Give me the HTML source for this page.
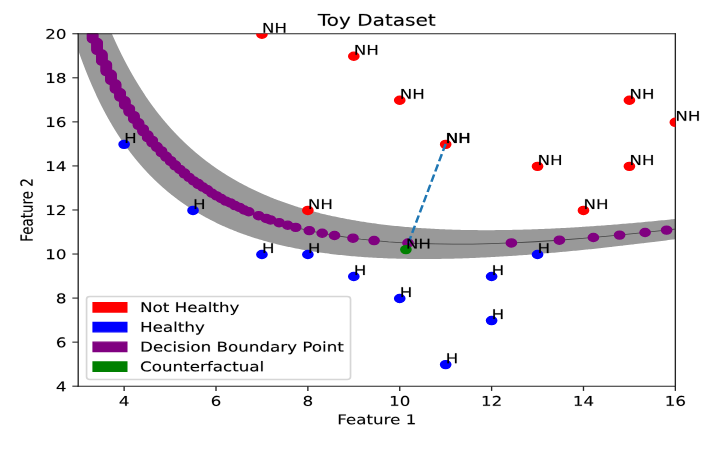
<!DOCTYPE html>
<html><head><meta charset="utf-8"><style>html,body{margin:0;padding:0;background:#fff;width:724px;height:464px;overflow:hidden;font-family:"Liberation Sans",sans-serif}svg{display:block} g[id^="text_"] use{stroke:#000;stroke-width:60}</style></head>
<body>
<svg width="724" height="464" preserveAspectRatio="none" viewBox="0 0 433.100698 345.123967" version="1.1">
 <defs>
  <style type="text/css">*{stroke-linejoin: round; stroke-linecap: butt}</style>
 </defs>
 <g id="figure_1">
  <g id="patch_1">
   <path d="M 0 345.123967 
L 433.100698 345.123967 
L 433.100698 0 
L 0 0 
z
" style="fill: #ffffff"/>
  </g>
  <g id="axes_1">
   <g id="patch_2">
    <path d="M 46.779661 287.256198 
L 403.998006 287.256198 
L 403.998006 25.103306 
L 46.779661 25.103306 
z
" style="fill: #ffffff"/>
   </g>
   <g id="QuadContourSet_1">
    <path d="M 229.891972 192.060809 
L 231.178583 192.127271 
L 232.465194 192.189548 
L 233.751805 192.2477 
L 235.038416 192.301785 
L 236.325027 192.351863 
L 237.611638 192.39799 
L 238.898249 192.440221 
L 240.18486 192.478612 
L 241.471471 192.513217 
L 242.758082 192.544088 
L 244.044693 192.571277 
L 245.331303 192.594835 
L 246.617914 192.614812 
L 247.904525 192.631257 
L 249.191136 192.644217 
L 250.477747 192.653742 
L 251.764358 192.659875 
L 253.050969 192.662665 
L 254.33758 192.662154 
L 255.624191 192.658387 
L 256.910802 192.651408 
L 258.197413 192.641258 
L 259.484024 192.627979 
L 260.770635 192.611613 
L 262.057246 192.592199 
L 263.343857 192.569778 
L 264.630468 192.544387 
L 265.917079 192.516066 
L 267.20369 192.484851 
L 268.490301 192.45078 
L 269.776912 192.413889 
L 271.063523 192.374213 
L 272.350134 192.331789 
L 273.636745 192.286649 
L 274.923356 192.238828 
L 276.209967 192.18836 
L 277.496578 192.135277 
L 278.783189 192.079612 
L 279.548146 192.044942 
L 280.0698 192.021394 
L 281.356411 191.960653 
L 282.643022 191.897423 
L 283.929633 191.831734 
L 285.216243 191.763616 
L 286.502854 191.693098 
L 287.789465 191.620209 
L 289.076076 191.544977 
L 290.362687 191.467431 
L 291.649298 191.387597 
L 292.935909 191.305503 
L 294.22252 191.221175 
L 295.509131 191.134639 
L 295.816544 191.113379 
L 296.795742 191.045916 
L 298.082353 190.955034 
L 299.368964 190.86202 
L 300.655575 190.7669 
L 301.942186 190.669696 
L 303.228797 190.570434 
L 304.515408 190.469135 
L 305.802019 190.365825 
L 307.08863 190.260524 
L 308.031753 190.181815 
L 308.375241 190.153254 
L 309.661852 190.044033 
L 310.948463 189.932888 
L 312.235074 189.819841 
L 313.521685 189.704913 
L 314.808296 189.588124 
L 316.094907 189.469497 
L 317.381518 189.34905 
L 318.420606 189.250252 
L 318.668129 189.226801 
L 319.95474 189.102765 
L 321.241351 188.976968 
L 322.527962 188.84943 
L 323.814572 188.720169 
L 325.101183 188.589204 
L 326.387794 188.456552 
L 327.674405 188.322233 
L 327.707834 188.318688 
L 328.961016 188.186254 
L 330.247627 188.048641 
L 331.534238 187.909413 
L 332.820849 187.768587 
L 334.10746 187.626178 
L 335.394071 187.482205 
L 336.233689 187.387125 
L 336.680682 187.336679 
L 337.967293 187.189612 
L 339.253904 187.041029 
L 340.540515 186.890944 
L 341.827126 186.739374 
L 343.113737 186.586332 
L 344.202188 186.455562 
L 344.400348 186.431833 
L 345.686959 186.275884 
L 346.97357 186.118508 
L 348.260181 185.95972 
L 349.546792 185.799534 
L 350.833403 185.637965 
L 351.732408 185.523998 
L 352.120014 185.475022 
L 353.406625 185.310715 
L 354.693236 185.145064 
L 355.979847 184.978085 
L 357.266458 184.809789 
L 358.553069 184.64019 
L 358.911761 184.592435 
L 359.83968 184.469291 
L 361.126291 184.297111 
L 362.412902 184.123665 
L 363.699512 183.948966 
L 364.986123 183.773026 
L 365.799632 183.660872 
L 366.272734 183.595852 
L 367.559345 183.417453 
L 368.845956 183.237848 
L 370.132567 183.05705 
L 371.419178 182.875068 
L 372.442444 182.729308 
L 372.705789 182.691912 
L 373.9924 182.507586 
L 375.279011 182.32211 
L 376.565622 182.135495 
L 377.852233 181.947752 
L 378.873504 181.797745 
L 379.138844 181.75889 
L 380.425455 181.56891 
L 381.712066 181.377833 
L 382.998677 181.185669 
L 384.285288 180.992429 
L 385.120345 180.866181 
L 385.571899 180.798118 
L 386.85851 180.602742 
L 388.145121 180.406318 
L 389.431732 180.208857 
L 390.718343 180.010367 
L 391.205924 179.934618 
L 392.004954 179.81085 
L 393.291565 179.610319 
L 394.578176 179.408787 
L 395.864787 179.206264 
L 397.149514 179.003055 
L 397.151398 179.002758 
L 398.438009 178.798264 
L 399.72462 178.592806 
L 401.011231 178.386391 
L 402.297841 178.179027 
L 402.961105 178.071491 
L 403.584452 177.970718 
L 404.871063 177.76147 
L 406.157674 177.551298 
L 407.444285 177.340212 
L 408.659631 177.139928 
L 408.730896 177.128217 
L 410.017507 176.915311 
L 411.304118 176.701512 
L 412.590729 176.48683 
L 413.87734 176.271272 
L 414.250549 176.208365 
L 415.163951 176.054835 
L 416.450562 175.837534 
L 417.737173 175.619378 
L 417.737173 175.276801 
L 417.737173 174.345238 
L 417.737173 173.413674 
L 417.737173 172.482111 
L 417.737173 171.550548 
L 417.737173 170.618984 
L 417.737173 169.687421 
L 417.737173 168.755858 
L 417.737173 167.824294 
L 417.737173 166.892731 
L 417.737173 165.961167 
L 417.737173 165.029604 
L 417.737173 164.098041 
L 417.737173 163.166477 
L 417.737173 162.234914 
L 417.737173 161.303351 
L 417.737173 161.049295 
L 416.450562 161.225968 
L 415.882615 161.303351 
L 415.163951 161.401543 
L 413.87734 161.57601 
L 412.590729 161.749366 
L 411.304118 161.9216 
L 410.017507 162.092703 
L 408.940456 162.234914 
L 408.730896 162.262663 
L 407.444285 162.431463 
L 406.157674 162.599101 
L 404.871063 162.765569 
L 403.584452 162.930854 
L 402.297841 163.094947 
L 401.731915 163.166477 
L 401.011231 163.257832 
L 399.72462 163.419498 
L 398.438009 163.57994 
L 397.151398 163.739147 
L 395.864787 163.897107 
L 394.578176 164.053809 
L 394.211253 164.098041 
L 393.291565 164.209235 
L 392.004954 164.363377 
L 390.718343 164.516227 
L 389.431732 164.667773 
L 388.145121 164.818003 
L 386.85851 164.966904 
L 386.310854 165.029604 
L 385.571899 165.11446 
L 384.285288 165.260658 
L 382.998677 165.405492 
L 381.712066 165.548947 
L 380.425455 165.691012 
L 379.138844 165.831672 
L 377.942047 165.961167 
L 377.852233 165.970915 
L 376.565622 166.108719 
L 375.279011 166.245079 
L 373.9924 166.379981 
L 372.705789 166.513412 
L 371.419178 166.645358 
L 370.132567 166.775803 
L 368.965401 166.892731 
L 368.845956 166.904734 
L 367.559345 167.032129 
L 366.272734 167.157979 
L 364.986123 167.282272 
L 363.699512 167.404991 
L 362.412902 167.526121 
L 361.126291 167.645647 
L 359.83968 167.763553 
L 359.166481 167.824294 
L 358.553069 167.879819 
L 357.266458 167.994428 
L 355.979847 168.107369 
L 354.693236 168.218624 
L 353.406625 168.328178 
L 352.120014 168.436013 
L 350.833403 168.542111 
L 349.546792 168.646455 
L 348.260181 168.749028 
L 348.172724 168.755858 
L 346.97357 168.849805 
L 345.686959 168.948773 
L 344.400348 169.045916 
L 343.113737 169.141213 
L 341.827126 169.234647 
L 340.540515 169.326197 
L 339.253904 169.415845 
L 337.967293 169.503571 
L 336.680682 169.589354 
L 335.394071 169.673175 
L 335.169447 169.687421 
L 334.10746 169.755007 
L 332.820849 169.834833 
L 331.534238 169.912635 
L 330.247627 169.988389 
L 328.961016 170.062075 
L 327.674405 170.133671 
L 326.387794 170.203153 
L 325.101183 170.270499 
L 323.814572 170.335686 
L 322.527962 170.39869 
L 321.241351 170.459489 
L 319.95474 170.518057 
L 318.668129 170.57437 
L 317.605129 170.618984 
L 317.381518 170.628403 
L 316.094907 170.680128 
L 314.808296 170.729523 
L 313.521685 170.776561 
L 312.235074 170.821218 
L 310.948463 170.863465 
L 309.661852 170.903276 
L 308.375241 170.940624 
L 307.08863 170.97548 
L 305.802019 171.007816 
L 304.515408 171.037603 
L 303.228797 171.064812 
L 301.942186 171.089414 
L 300.655575 171.111377 
L 299.368964 171.130673 
L 298.082353 171.147269 
L 296.795742 171.161134 
L 295.509131 171.172236 
L 294.22252 171.180542 
L 292.935909 171.18602 
L 291.649298 171.188636 
L 290.362687 171.188355 
L 289.076076 171.185143 
L 287.789465 171.178965 
L 286.502854 171.169785 
L 285.216243 171.157566 
L 283.929633 171.142272 
L 282.643022 171.123866 
L 281.356411 171.102308 
L 280.0698 171.07756 
L 278.783189 171.049583 
L 277.496578 171.018337 
L 276.209967 170.98378 
L 274.923356 170.945872 
L 273.636745 170.90457 
L 272.350134 170.859831 
L 271.063523 170.811612 
L 269.776912 170.759869 
L 268.490301 170.704557 
L 267.20369 170.645629 
L 266.654633 170.618984 
L 265.917079 170.583035 
L 264.630468 170.51673 
L 263.343857 170.446666 
L 262.057246 170.372796 
L 260.770635 170.295068 
L 259.484024 170.213432 
L 258.197413 170.127837 
L 256.910802 170.038229 
L 255.624191 169.944556 
L 254.33758 169.846762 
L 253.050969 169.744792 
L 252.354503 169.687421 
L 251.764358 169.638584 
L 250.477747 169.528081 
L 249.191136 169.413228 
L 247.904525 169.293967 
L 246.617914 169.170236 
L 245.331303 169.041973 
L 244.044693 168.909116 
L 242.758082 168.7716 
L 242.61509 168.755858 
L 241.471471 168.629347 
L 240.18486 168.482301 
L 238.898249 168.330396 
L 237.611638 168.173561 
L 236.325027 168.011728 
L 235.038416 167.844823 
L 234.884248 167.824294 
L 233.751805 167.672758 
L 232.465194 167.495471 
L 231.178583 167.312888 
L 229.891972 167.124931 
L 228.605361 166.931521 
L 228.353498 166.892731 
L 227.31875 166.732561 
L 226.032139 166.527979 
L 224.745528 166.317697 
L 223.458917 166.101628 
L 222.643161 165.961167 
L 222.172306 165.879676 
L 220.885695 165.651745 
L 219.599084 165.417759 
L 218.312473 165.177624 
L 217.537914 165.029604 
L 217.025862 164.931236 
L 215.739251 164.67849 
L 214.45264 164.419305 
L 213.166029 164.15358 
L 212.902578 164.098041 
L 211.879418 163.881187 
L 210.592807 163.602037 
L 209.306196 163.316031 
L 208.647711 163.166477 
L 208.019585 163.023041 
L 206.732974 162.722954 
L 205.446364 162.415673 
L 204.705404 162.234914 
L 204.159753 162.101064 
L 202.873142 161.779001 
L 201.586531 161.449384 
L 201.027753 161.303351 
L 200.29992 161.112064 
L 199.013309 160.766918 
L 197.726698 160.413833 
L 197.576169 160.371787 
L 196.440087 160.052637 
L 195.153476 159.683225 
L 194.324179 159.440224 
L 193.866865 159.305445 
L 192.580254 158.919141 
L 191.293643 158.524197 
L 191.243858 158.50866 
L 190.007032 158.120413 
L 188.720421 157.707682 
L 188.320529 157.577097 
L 187.43381 157.285812 
L 186.147199 156.854662 
L 185.534596 156.645534 
L 184.860588 156.414055 
L 183.573977 155.963822 
L 182.873248 155.71397 
L 182.287366 155.503793 
L 181.000755 155.033783 
L 180.325217 154.782407 
L 179.714144 154.553614 
L 178.427533 154.063096 
L 177.880558 153.850844 
L 177.140922 153.562034 
L 175.854311 153.050242 
L 175.530452 152.91928 
L 174.5677 152.527496 
L 173.281089 151.993626 
L 173.267059 151.987717 
L 171.994478 151.448364 
L 171.086495 151.056154 
L 170.707867 150.891546 
L 169.421256 150.322917 
L 168.979924 150.12459 
L 168.134645 149.742252 
L 166.942265 149.193027 
L 166.848034 149.149337 
L 165.561424 148.543888 
L 164.97151 148.261463 
L 164.274813 147.92569 
L 163.059922 147.3299 
L 162.988202 147.294492 
L 161.701591 146.649994 
L 161.20748 146.398337 
L 160.41498 145.991958 
L 159.407737 145.466773 
L 159.128369 145.32011 
L 157.841758 144.63415 
L 157.658917 144.53521 
L 156.555147 143.933779 
L 155.95891 143.603647 
L 155.268536 143.218716 
L 154.303496 142.672083 
L 153.981925 142.48865 
L 152.695314 141.743262 
L 152.690644 141.74052 
L 151.408703 140.982198 
L 151.120253 140.808956 
L 150.122092 140.205148 
L 149.588326 139.877393 
L 148.835481 139.411763 
L 148.093172 138.94583 
L 147.54887 138.601686 
L 146.633201 138.014266 
L 146.262259 137.774549 
L 145.206912 137.082703 
L 144.975648 136.929971 
L 143.812888 136.15114 
L 143.689037 136.067563 
L 142.449791 135.219576 
L 142.402426 135.186922 
L 141.116354 134.288013 
L 141.115815 134.287633 
L 139.829204 133.369267 
L 139.811487 133.356449 
L 138.542593 132.431389 
L 138.533791 132.424886 
L 137.282352 131.493323 
L 137.255982 131.473542 
L 136.056203 130.561759 
L 135.969371 130.495255 
L 134.854324 129.630196 
L 134.68276 129.496048 
L 133.675797 128.698633 
L 133.396149 128.475421 
L 132.519751 127.767069 
L 132.109538 127.43286 
L 131.385355 126.835506 
L 130.822927 126.367834 
L 130.271822 125.903942 
L 129.536316 125.279796 
L 129.178399 124.972379 
L 128.249705 124.168178 
L 128.104371 124.040816 
L 127.049504 123.109252 
L 126.963095 123.032382 
L 126.013527 122.177689 
L 125.676484 121.871791 
L 124.995051 121.246126 
L 124.389873 120.6858 
L 123.99348 120.314562 
L 123.103262 119.473765 
L 123.008242 119.382999 
L 122.039887 118.451435 
L 121.816651 118.234976 
L 121.087312 117.519872 
L 120.53004 116.96876 
L 120.149542 116.588309 
L 119.243429 115.674417 
L 119.226097 115.656745 
L 118.31822 114.725182 
L 117.956818 114.351137 
L 117.423874 113.793619 
L 116.670207 112.998212 
L 116.542553 112.862055 
L 115.675187 111.930492 
L 115.383596 111.61479 
L 114.820659 110.998929 
L 114.096985 110.200074 
L 113.977998 110.067365 
L 113.148352 109.135802 
L 112.810374 108.753162 
L 112.330413 108.204238 
L 111.523763 107.273209 
L 111.523305 107.272675 
L 110.728851 106.341112 
L 110.237152 105.759206 
L 109.944603 105.409548 
L 109.171208 104.477985 
L 108.950541 104.210254 
L 108.408703 103.546422 
L 107.66393 102.625337 
L 107.655538 102.614858 
L 106.913694 101.683295 
L 106.377319 101.003359 
L 106.180696 100.751731 
L 105.457777 99.820168 
L 105.090708 99.34328 
L 104.743997 98.888605 
L 104.039259 97.957041 
L 103.804097 97.643963 
L 103.343802 97.025478 
L 102.656541 96.093915 
L 102.517486 95.904226 
L 101.978566 95.162351 
L 101.308114 94.230788 
L 101.230875 94.122839 
L 100.646829 93.299224 
L 99.992555 92.367661 
L 99.944264 92.298521 
L 99.347212 91.436098 
L 98.708515 90.504534 
L 98.657653 90.429939 
L 98.078409 89.572971 
L 97.454722 88.641408 
L 97.371042 88.515704 
L 96.839185 87.709844 
L 96.229968 86.778281 
L 96.084431 86.554367 
L 95.628372 85.846717 
L 95.03311 84.915154 
L 94.79782 84.544418 
L 94.444859 83.983591 
L 93.863064 83.052027 
L 93.511209 82.484282 
L 93.287594 82.120464 
L 92.718802 81.188901 
L 92.224598 80.372314 
L 92.15558 80.257337 
L 91.599348 79.325774 
L 91.048257 78.39421 
L 90.937987 78.206755 
L 90.503772 77.462647 
L 89.964647 76.531084 
L 89.651376 75.985814 
L 89.431194 75.59952 
L 88.903641 74.667957 
L 88.380829 73.736394 
L 88.364765 73.707635 
L 87.864416 72.80483 
L 87.352645 71.873267 
L 87.078155 71.370157 
L 86.84619 70.941703 
L 86.345107 70.01014 
L 85.848408 69.078577 
L 85.791544 68.971392 
L 85.357487 68.147013 
L 84.871001 67.21545 
L 84.504933 66.509097 
L 84.389088 66.283887 
L 83.912498 65.352323 
L 83.439969 64.42076 
L 83.218322 63.981014 
L 82.97225 63.489197 
L 82.509189 62.557633 
L 82.050017 61.62607 
L 81.931711 61.384755 
L 81.59576 60.694506 
L 81.145653 59.762943 
L 80.699271 58.83138 
L 80.6451 58.717789 
L 80.25779 57.899816 
L 79.820094 56.968253 
L 79.38597 56.03669 
L 79.358489 55.977456 
L 78.956622 55.105126 
L 78.530825 54.173563 
L 78.108455 53.241999 
L 78.071878 53.160962 
L 77.690637 52.310436 
L 77.276257 51.378873 
L 76.865166 50.447309 
L 76.785267 50.265369 
L 76.458311 49.515746 
L 76.054892 48.584183 
L 75.654632 47.652619 
L 75.498656 47.287587 
L 75.258208 46.721056 
L 74.865318 45.789492 
L 74.475462 44.857929 
L 74.212045 44.22436 
L 74.088969 43.926366 
L 73.706199 42.994802 
L 73.326348 42.063239 
L 72.949383 41.131676 
L 72.925434 41.072245 
L 72.576277 40.200112 
L 72.206049 39.268549 
L 71.838597 38.336985 
L 71.638823 37.827535 
L 71.47436 37.405422 
L 71.113393 36.473859 
L 70.7551 35.542295 
L 70.399452 34.610732 
L 70.352212 34.48646 
L 70.047272 33.679169 
L 69.697799 32.747605 
L 69.350875 31.816042 
L 69.065601 31.044879 
L 69.006634 30.884478 
L 68.665662 29.952915 
L 68.327145 29.021352 
L 67.99106 28.089788 
L 67.77899 27.498479 
L 67.657708 27.158225 
L 67.327299 26.226662 
L 66.999235 25.295098 
L 66.673491 24.363535 
L 66.492379 23.842692 
L 66.350421 23.431971 
L 66.030097 22.500408 
L 65.712011 21.568845 
L 65.396142 20.637281 
L 65.205768 20.072642 
L 65.08279 19.705718 
L 64.772099 18.774155 
L 64.463548 17.842591 
L 64.157116 16.911028 
L 63.919157 16.911028 
L 62.632546 16.911028 
L 61.345935 16.911028 
L 60.059324 16.911028 
L 58.772713 16.911028 
L 57.486102 16.911028 
L 56.199491 16.911028 
L 54.91288 16.911028 
L 53.626269 16.911028 
L 52.339658 16.911028 
L 51.053047 16.911028 
L 49.766436 16.911028 
L 48.479826 16.911028 
L 47.193215 16.911028 
L 45.906604 16.911028 
L 44.619993 16.911028 
L 43.333382 16.911028 
L 42.046771 16.911028 
L 41.513663 16.911028 
L 41.735105 17.842591 
L 41.958033 18.774155 
L 42.046771 19.143191 
L 42.182803 19.705718 
L 42.409317 20.637281 
L 42.637368 21.568845 
L 42.866972 22.500408 
L 43.098144 23.431971 
L 43.330898 24.363535 
L 43.333382 24.373441 
L 43.565843 25.295098 
L 43.802416 26.226662 
L 44.040627 27.158225 
L 44.280491 28.089788 
L 44.522025 29.021352 
L 44.619993 29.397317 
L 44.765625 29.952915 
L 45.01119 30.884478 
L 45.258485 31.816042 
L 45.507526 32.747605 
L 45.758331 33.679169 
L 45.906604 34.226768 
L 46.011196 34.610732 
L 46.266262 35.542295 
L 46.523155 36.473859 
L 46.781895 37.405422 
L 47.042499 38.336985 
L 47.193215 38.872647 
L 47.305292 39.268549 
L 47.570405 40.200112 
L 47.837452 41.131676 
L 48.106453 42.063239 
L 48.377429 42.994802 
L 48.479826 43.345014 
L 48.650871 43.926366 
L 48.926623 44.857929 
L 49.204423 45.789492 
L 49.484294 46.721056 
L 49.766257 47.652619 
L 49.766436 47.653208 
L 50.051137 48.584183 
L 50.338167 49.515746 
L 50.62737 50.447309 
L 50.918769 51.378873 
L 51.053047 51.805735 
L 51.212847 52.310436 
L 51.509566 53.241999 
L 51.808567 54.173563 
L 52.109876 55.105126 
L 52.339658 55.810726 
L 52.413733 56.03669 
L 52.720633 56.968253 
L 53.029932 57.899816 
L 53.341657 58.83138 
L 53.626269 59.675576 
L 53.655923 59.762943 
L 53.97353 60.694506 
L 54.293661 61.62607 
L 54.616345 62.557633 
L 54.91288 63.407195 
L 54.9417 63.489197 
L 55.270578 64.42076 
L 55.602114 65.352323 
L 55.936341 66.283887 
L 56.199491 67.012043 
L 56.273516 67.21545 
L 56.614272 68.147013 
L 56.95783 69.078577 
L 57.304224 70.01014 
L 57.486102 70.496173 
L 57.654015 70.941703 
L 58.007299 71.873267 
L 58.363541 72.80483 
L 58.722777 73.736394 
L 58.772713 73.865255 
L 59.086045 74.667957 
L 59.452559 75.59952 
L 59.822197 76.531084 
L 60.059324 77.124506 
L 60.195442 77.462647 
L 60.572679 78.39421 
L 60.953179 79.325774 
L 61.336984 80.257337 
L 61.345935 80.278964 
L 61.725393 81.188901 
L 62.117242 82.120464 
L 62.512546 83.052027 
L 62.632546 83.333174 
L 62.91229 83.983591 
L 63.316005 84.915154 
L 63.723334 85.846717 
L 63.919157 86.291585 
L 64.135063 86.778281 
L 64.551195 87.709844 
L 64.97111 88.641408 
L 65.205768 89.158291 
L 65.395519 89.572971 
L 65.824655 90.504534 
L 66.257754 91.436098 
L 66.492379 91.937159 
L 66.695589 92.367661 
L 67.138354 93.299224 
L 67.585275 94.230788 
L 67.77899 94.631839 
L 68.037338 95.162351 
L 68.4944 96.093915 
L 68.955823 97.025478 
L 69.065601 97.245783 
L 69.422978 97.957041 
L 69.89505 98.888605 
L 70.352212 99.782246 
L 70.371776 99.820168 
L 70.854877 100.751731 
L 71.342724 101.683295 
L 71.638823 102.24425 
L 71.836132 102.614858 
L 72.33558 103.546422 
L 72.84002 104.477985 
L 72.925434 104.634787 
L 73.351166 105.409548 
L 73.86782 106.341112 
L 74.212045 106.956553 
L 74.390428 107.272675 
L 74.919756 108.204238 
L 75.454541 109.135802 
L 75.498656 109.212212 
L 75.996849 110.067365 
L 76.545002 110.998929 
L 76.785267 111.404174 
L 77.100182 111.930492 
L 77.662224 112.862055 
L 78.071878 113.534858 
L 78.2309 113.793619 
L 78.80738 114.725182 
L 79.358489 115.606485 
L 79.390216 115.656745 
L 79.981714 116.588309 
L 80.57969 117.519872 
L 80.6451 117.621145 
L 81.186543 118.451435 
L 81.80042 119.382999 
L 81.931711 119.58088 
L 82.423268 120.314562 
L 83.05371 121.246126 
L 83.218322 121.487624 
L 83.693373 122.177689 
L 84.341084 123.109252 
L 84.504933 123.343208 
L 84.998438 124.040816 
L 85.664165 124.972379 
L 85.791544 125.14938 
L 86.340143 125.903942 
L 87.024679 126.835506 
L 87.078155 126.907811 
L 87.720279 127.767069 
L 88.364765 128.620078 
L 88.424743 128.698633 
L 89.140755 129.630196 
L 89.651376 130.287697 
L 89.8665 130.561759 
L 90.603607 131.493323 
L 90.937987 131.912145 
L 91.351819 132.424886 
L 92.111012 133.356449 
L 92.224598 133.494817 
L 92.882965 134.288013 
L 93.511209 135.037011 
L 93.666061 135.219576 
L 94.462358 136.15114 
L 94.79782 136.540007 
L 95.271334 137.082703 
L 96.084431 138.005064 
L 96.092637 138.014266 
L 96.92898 138.94583 
L 97.371042 139.433268 
L 97.778565 139.877393 
L 98.641904 140.808956 
L 98.657653 140.825833 
L 99.52149 141.74052 
L 99.944264 142.183739 
L 100.415735 142.672083 
L 101.230875 143.508101 
L 101.325179 143.603647 
L 102.251846 144.53521 
L 102.517486 144.799842 
L 103.195342 145.466773 
L 103.804097 146.059948 
L 104.15578 146.398337 
L 105.090708 147.289341 
L 105.133813 147.3299 
L 106.131538 148.261463 
L 106.377319 148.488849 
L 107.148445 149.193027 
L 107.66393 149.659352 
L 108.185045 150.12459 
L 108.950541 150.801667 
L 109.242135 151.056154 
L 110.237152 151.916569 
L 110.320553 151.987717 
L 111.421806 152.91928 
L 111.523763 153.004791 
L 112.546596 153.850844 
L 112.810374 154.067064 
L 113.6954 154.782407 
L 114.096985 155.104096 
L 114.869253 155.71397 
L 115.383596 156.116558 
L 116.069247 156.645534 
L 116.670207 157.105098 
L 117.296542 157.577097 
L 117.956818 158.070341 
L 118.552365 158.50866 
L 119.243429 159.012889 
L 119.838018 159.440224 
L 120.53004 159.933327 
L 121.154885 160.371787 
L 121.816651 160.832216 
L 122.504434 161.303351 
L 123.103262 161.7101 
L 123.888229 162.234914 
L 124.389873 162.567505 
L 125.307936 163.166477 
L 125.676484 163.404939 
L 126.765329 164.098041 
L 126.963095 164.222895 
L 128.249705 165.021846 
L 128.262394 165.029604 
L 129.536316 165.802229 
L 129.802874 165.961167 
L 130.822927 166.564513 
L 131.387522 166.892731 
L 132.109538 167.309128 
L 133.018692 167.824294 
L 133.396149 168.036492 
L 134.68276 168.747009 
L 134.699038 168.755858 
L 135.969371 169.441035 
L 136.434662 169.687421 
L 137.255982 170.118985 
L 138.225554 170.618984 
L 138.542593 170.781229 
L 139.829204 171.428104 
L 140.077019 171.550548 
L 141.115815 172.059948 
L 141.993798 172.482111 
L 142.402426 172.677124 
L 143.689037 173.279938 
L 143.979625 173.413674 
L 144.975648 173.868695 
L 146.040537 174.345238 
L 146.262259 174.443734 
L 147.54887 175.005311 
L 148.183454 175.276801 
L 148.835481 175.553743 
L 150.122092 176.089308 
L 150.413399 176.208365 
L 151.408703 176.612254 
L 152.695314 177.122888 
L 152.738993 177.139928 
L 153.981925 177.62141 
L 155.171055 178.071491 
L 155.268536 178.108131 
L 156.555147 178.583234 
L 157.719044 179.003055 
L 157.841758 179.047014 
L 159.128369 179.499644 
L 160.395079 179.934618 
L 160.41498 179.941405 
L 161.701591 180.372453 
L 162.988202 180.793059 
L 163.216235 180.866181 
L 164.274813 181.203379 
L 165.561424 181.603651 
L 166.198969 181.797745 
L 166.848034 181.994051 
L 168.134645 182.37477 
L 169.362994 182.729308 
L 169.421256 182.746016 
L 170.707867 183.107922 
L 171.994478 183.460713 
L 172.741486 183.660872 
L 173.281089 183.804539 
L 174.5677 184.139559 
L 175.854311 184.465962 
L 176.364218 184.592435 
L 177.140922 184.783881 
L 178.427533 185.093479 
L 179.714144 185.394924 
L 180.278181 185.523998 
L 181.000755 185.688341 
L 182.287366 185.973877 
L 183.573977 186.251691 
L 184.543242 186.455562 
L 184.860588 186.52191 
L 186.147199 186.78465 
L 187.43381 187.040068 
L 188.720421 187.28829 
L 189.245943 187.387125 
L 190.007032 187.529423 
L 191.293643 187.763595 
L 192.580254 187.990937 
L 193.866865 188.211564 
L 194.509033 188.318688 
L 195.153476 188.425576 
L 196.440087 188.633085 
L 197.726698 188.834212 
L 199.013309 189.029064 
L 200.29992 189.217742 
L 200.527945 189.250252 
L 201.586531 189.400332 
L 202.873142 189.576946 
L 204.159753 189.747685 
L 205.446364 189.912644 
L 206.732974 190.071916 
L 207.651682 190.181815 
L 208.019585 190.225586 
L 209.306196 190.373736 
L 210.592807 190.516466 
L 211.879418 190.653862 
L 213.166029 190.786005 
L 214.45264 190.912978 
L 215.739251 191.034861 
L 216.602177 191.113379 
L 217.025862 191.151728 
L 218.312473 191.263651 
L 219.599084 191.370715 
L 220.885695 191.472993 
L 222.172306 191.570557 
L 223.458917 191.663477 
L 224.745528 191.751824 
L 226.032139 191.835665 
L 227.31875 191.915067 
L 228.605361 191.990094 
L 229.602164 192.044942 
z
" clip-path="url(#pa65eab0f58)" style="fill: #999999"/>
   </g>
   <g id="matplotlib.axis_1">
    <g id="xtick_1">
     <g id="line2d_1">
      <defs>
       <path id="m4f510c6776" d="M 0 0 
L 0 3.5 
" style="stroke: #242424; stroke-width: 0.8"/>
      </defs>
      <g>
       <use href="#m4f510c6776" x="74.257995" y="287.256198" style="fill: #242424; stroke: #242424; stroke-width: 0.8"/>
      </g>
     </g>
     <g id="text_1">
      <g transform="translate(71.076745 301.854636) scale(0.1 -0.1)">
       <defs>
        <path id="DejaVuSans-34" d="M 2419 4116 
L 825 1625 
L 2419 1625 
L 2419 4116 
z
M 2253 4666 
L 3047 4666 
L 3047 1625 
L 3713 1625 
L 3713 1100 
L 3047 1100 
L 3047 0 
L 2419 0 
L 2419 1100 
L 313 1100 
L 313 1709 
L 2253 4666 
z
" transform="scale(0.015625)"/>
       </defs>
       <use href="#DejaVuSans-34"/>
      </g>
     </g>
    </g>
    <g id="xtick_2">
     <g id="line2d_2">
      <g>
       <use href="#m4f510c6776" x="129.214664" y="287.256198" style="fill: #242424; stroke: #242424; stroke-width: 0.8"/>
      </g>
     </g>
     <g id="text_2">
      <g transform="translate(126.033414 301.854636) scale(0.1 -0.1)">
       <defs>
        <path id="DejaVuSans-36" d="M 2113 2584 
Q 1688 2584 1439 2293 
Q 1191 2003 1191 1497 
Q 1191 994 1439 701 
Q 1688 409 2113 409 
Q 2538 409 2786 701 
Q 3034 994 3034 1497 
Q 3034 2003 2786 2293 
Q 2538 2584 2113 2584 
z
M 3366 4563 
L 3366 3988 
Q 3128 4100 2886 4159 
Q 2644 4219 2406 4219 
Q 1781 4219 1451 3797 
Q 1122 3375 1075 2522 
Q 1259 2794 1537 2939 
Q 1816 3084 2150 3084 
Q 2853 3084 3261 2657 
Q 3669 2231 3669 1497 
Q 3669 778 3244 343 
Q 2819 -91 2113 -91 
Q 1303 -91 875 529 
Q 447 1150 447 2328 
Q 447 3434 972 4092 
Q 1497 4750 2381 4750 
Q 2619 4750 2861 4703 
Q 3103 4656 3366 4563 
z
" transform="scale(0.015625)"/>
       </defs>
       <use href="#DejaVuSans-36"/>
      </g>
     </g>
    </g>
    <g id="xtick_3">
     <g id="line2d_3">
      <g>
       <use href="#m4f510c6776" x="184.171332" y="287.256198" style="fill: #242424; stroke: #242424; stroke-width: 0.8"/>
      </g>
     </g>
     <g id="text_3">
      <g transform="translate(180.990082 301.854636) scale(0.1 -0.1)">
       <defs>
        <path id="DejaVuSans-38" d="M 2034 2216 
Q 1584 2216 1326 1975 
Q 1069 1734 1069 1313 
Q 1069 891 1326 650 
Q 1584 409 2034 409 
Q 2484 409 2743 651 
Q 3003 894 3003 1313 
Q 3003 1734 2745 1975 
Q 2488 2216 2034 2216 
z
M 1403 2484 
Q 997 2584 770 2862 
Q 544 3141 544 3541 
Q 544 4100 942 4425 
Q 1341 4750 2034 4750 
Q 2731 4750 3128 4425 
Q 3525 4100 3525 3541 
Q 3525 3141 3298 2862 
Q 3072 2584 2669 2484 
Q 3125 2378 3379 2068 
Q 3634 1759 3634 1313 
Q 3634 634 3220 271 
Q 2806 -91 2034 -91 
Q 1263 -91 848 271 
Q 434 634 434 1313 
Q 434 1759 690 2068 
Q 947 2378 1403 2484 
z
M 1172 3481 
Q 1172 3119 1398 2916 
Q 1625 2713 2034 2713 
Q 2441 2713 2670 2916 
Q 2900 3119 2900 3481 
Q 2900 3844 2670 4047 
Q 2441 4250 2034 4250 
Q 1625 4250 1398 4047 
Q 1172 3844 1172 3481 
z
" transform="scale(0.015625)"/>
       </defs>
       <use href="#DejaVuSans-38"/>
      </g>
     </g>
    </g>
    <g id="xtick_4">
     <g id="line2d_4">
      <g>
       <use href="#m4f510c6776" x="239.128001" y="287.256198" style="fill: #242424; stroke: #242424; stroke-width: 0.8"/>
      </g>
     </g>
     <g id="text_4">
      <g transform="translate(232.765501 301.854636) scale(0.1 -0.1)">
       <defs>
        <path id="DejaVuSans-31" d="M 794 531 
L 1825 531 
L 1825 4091 
L 703 3866 
L 703 4441 
L 1819 4666 
L 2450 4666 
L 2450 531 
L 3481 531 
L 3481 0 
L 794 0 
L 794 531 
z
" transform="scale(0.015625)"/>
        <path id="DejaVuSans-30" d="M 2034 4250 
Q 1547 4250 1301 3770 
Q 1056 3291 1056 2328 
Q 1056 1369 1301 889 
Q 1547 409 2034 409 
Q 2525 409 2770 889 
Q 3016 1369 3016 2328 
Q 3016 3291 2770 3770 
Q 2525 4250 2034 4250 
z
M 2034 4750 
Q 2819 4750 3233 4129 
Q 3647 3509 3647 2328 
Q 3647 1150 3233 529 
Q 2819 -91 2034 -91 
Q 1250 -91 836 529 
Q 422 1150 422 2328 
Q 422 3509 836 4129 
Q 1250 4750 2034 4750 
z
" transform="scale(0.015625)"/>
       </defs>
       <use href="#DejaVuSans-31"/>
       <use href="#DejaVuSans-30" transform="translate(63.623047 0)"/>
      </g>
     </g>
    </g>
    <g id="xtick_5">
     <g id="line2d_5">
      <g>
       <use href="#m4f510c6776" x="294.084669" y="287.256198" style="fill: #242424; stroke: #242424; stroke-width: 0.8"/>
      </g>
     </g>
     <g id="text_5">
      <g transform="translate(287.722169 301.854636) scale(0.1 -0.1)">
       <defs>
        <path id="DejaVuSans-32" d="M 1228 531 
L 3431 531 
L 3431 0 
L 469 0 
L 469 531 
Q 828 903 1448 1529 
Q 2069 2156 2228 2338 
Q 2531 2678 2651 2914 
Q 2772 3150 2772 3378 
Q 2772 3750 2511 3984 
Q 2250 4219 1831 4219 
Q 1534 4219 1204 4116 
Q 875 4013 500 3803 
L 500 4441 
Q 881 4594 1212 4672 
Q 1544 4750 1819 4750 
Q 2544 4750 2975 4387 
Q 3406 4025 3406 3419 
Q 3406 3131 3298 2873 
Q 3191 2616 2906 2266 
Q 2828 2175 2409 1742 
Q 1991 1309 1228 531 
z
" transform="scale(0.015625)"/>
       </defs>
       <use href="#DejaVuSans-31"/>
       <use href="#DejaVuSans-32" transform="translate(63.623047 0)"/>
      </g>
     </g>
    </g>
    <g id="xtick_6">
     <g id="line2d_6">
      <g>
       <use href="#m4f510c6776" x="349.041338" y="287.256198" style="fill: #242424; stroke: #242424; stroke-width: 0.8"/>
      </g>
     </g>
     <g id="text_6">
      <g transform="translate(342.678838 301.854636) scale(0.1 -0.1)">
       <use href="#DejaVuSans-31"/>
       <use href="#DejaVuSans-34" transform="translate(63.623047 0)"/>
      </g>
     </g>
    </g>
    <g id="xtick_7">
     <g id="line2d_7">
      <g>
       <use href="#m4f510c6776" x="403.998006" y="287.256198" style="fill: #242424; stroke: #242424; stroke-width: 0.8"/>
      </g>
     </g>
     <g id="text_7">
      <g transform="translate(397.635506 301.854636) scale(0.1 -0.1)">
       <use href="#DejaVuSans-31"/>
       <use href="#DejaVuSans-36" transform="translate(63.623047 0)"/>
      </g>
     </g>
    </g>
    <g id="text_8">
     <g transform="translate(201.728677 315.532761) scale(0.1 -0.1)">
      <defs>
       <path id="DejaVuSans-46" d="M 628 4666 
L 3309 4666 
L 3309 4134 
L 1259 4134 
L 1259 2759 
L 3109 2759 
L 3109 2228 
L 1259 2228 
L 1259 0 
L 628 0 
L 628 4666 
z
" transform="scale(0.015625)"/>
       <path id="DejaVuSans-65" d="M 3597 1894 
L 3597 1613 
L 953 1613 
Q 991 1019 1311 708 
Q 1631 397 2203 397 
Q 2534 397 2845 478 
Q 3156 559 3463 722 
L 3463 178 
Q 3153 47 2828 -22 
Q 2503 -91 2169 -91 
Q 1331 -91 842 396 
Q 353 884 353 1716 
Q 353 2575 817 3079 
Q 1281 3584 2069 3584 
Q 2775 3584 3186 3129 
Q 3597 2675 3597 1894 
z
M 3022 2063 
Q 3016 2534 2758 2815 
Q 2500 3097 2075 3097 
Q 1594 3097 1305 2825 
Q 1016 2553 972 2059 
L 3022 2063 
z
" transform="scale(0.015625)"/>
       <path id="DejaVuSans-61" d="M 2194 1759 
Q 1497 1759 1228 1600 
Q 959 1441 959 1056 
Q 959 750 1161 570 
Q 1363 391 1709 391 
Q 2188 391 2477 730 
Q 2766 1069 2766 1631 
L 2766 1759 
L 2194 1759 
z
M 3341 1997 
L 3341 0 
L 2766 0 
L 2766 531 
Q 2569 213 2275 61 
Q 1981 -91 1556 -91 
Q 1019 -91 701 211 
Q 384 513 384 1019 
Q 384 1609 779 1909 
Q 1175 2209 1959 2209 
L 2766 2209 
L 2766 2266 
Q 2766 2663 2505 2880 
Q 2244 3097 1772 3097 
Q 1472 3097 1187 3025 
Q 903 2953 641 2809 
L 641 3341 
Q 956 3463 1253 3523 
Q 1550 3584 1831 3584 
Q 2591 3584 2966 3190 
Q 3341 2797 3341 1997 
z
" transform="scale(0.015625)"/>
       <path id="DejaVuSans-74" d="M 1172 4494 
L 1172 3500 
L 2356 3500 
L 2356 3053 
L 1172 3053 
L 1172 1153 
Q 1172 725 1289 603 
Q 1406 481 1766 481 
L 2356 481 
L 2356 0 
L 1766 0 
Q 1100 0 847 248 
Q 594 497 594 1153 
L 594 3053 
L 172 3053 
L 172 3500 
L 594 3500 
L 594 4494 
L 1172 4494 
z
" transform="scale(0.015625)"/>
       <path id="DejaVuSans-75" d="M 544 1381 
L 544 3500 
L 1119 3500 
L 1119 1403 
Q 1119 906 1312 657 
Q 1506 409 1894 409 
Q 2359 409 2629 706 
Q 2900 1003 2900 1516 
L 2900 3500 
L 3475 3500 
L 3475 0 
L 2900 0 
L 2900 538 
Q 2691 219 2414 64 
Q 2138 -91 1772 -91 
Q 1169 -91 856 284 
Q 544 659 544 1381 
z
M 1991 3584 
L 1991 3584 
z
" transform="scale(0.015625)"/>
       <path id="DejaVuSans-72" d="M 2631 2963 
Q 2534 3019 2420 3045 
Q 2306 3072 2169 3072 
Q 1681 3072 1420 2755 
Q 1159 2438 1159 1844 
L 1159 0 
L 581 0 
L 581 3500 
L 1159 3500 
L 1159 2956 
Q 1341 3275 1631 3429 
Q 1922 3584 2338 3584 
Q 2397 3584 2469 3576 
Q 2541 3569 2628 3553 
L 2631 2963 
z
" transform="scale(0.015625)"/>
       <path id="DejaVuSans-20" transform="scale(0.015625)"/>
      </defs>
      <use href="#DejaVuSans-46"/>
      <use href="#DejaVuSans-65" transform="translate(52.019531 0)"/>
      <use href="#DejaVuSans-61" transform="translate(113.542969 0)"/>
      <use href="#DejaVuSans-74" transform="translate(174.822266 0)"/>
      <use href="#DejaVuSans-75" transform="translate(214.03125 0)"/>
      <use href="#DejaVuSans-72" transform="translate(277.410156 0)"/>
      <use href="#DejaVuSans-65" transform="translate(316.273438 0)"/>
      <use href="#DejaVuSans-20" transform="translate(377.796875 0)"/>
      <use href="#DejaVuSans-31" transform="translate(409.583984 0)"/>
     </g>
    </g>
   </g>
   <g id="matplotlib.axis_2">
    <g id="ytick_1">
     <g id="line2d_8">
      <defs>
       <path id="m53d53409c9" d="M 0 0 
L -3.5 0 
" style="stroke: #242424; stroke-width: 0.8"/>
      </defs>
      <g>
       <use href="#m53d53409c9" x="46.779661" y="287.256198" style="fill: #242424; stroke: #242424; stroke-width: 0.8"/>
      </g>
     </g>
     <g id="text_9">
      <g transform="translate(33.417161 291.055417) scale(0.1 -0.1)">
       <use href="#DejaVuSans-34"/>
      </g>
     </g>
    </g>
    <g id="ytick_2">
     <g id="line2d_9">
      <g>
       <use href="#m53d53409c9" x="46.779661" y="254.487087" style="fill: #242424; stroke: #242424; stroke-width: 0.8"/>
      </g>
     </g>
     <g id="text_10">
      <g transform="translate(33.417161 258.286306) scale(0.1 -0.1)">
       <use href="#DejaVuSans-36"/>
      </g>
     </g>
    </g>
    <g id="ytick_3">
     <g id="line2d_10">
      <g>
       <use href="#m53d53409c9" x="46.779661" y="221.717975" style="fill: #242424; stroke: #242424; stroke-width: 0.8"/>
      </g>
     </g>
     <g id="text_11">
      <g transform="translate(33.417161 225.517194) scale(0.1 -0.1)">
       <use href="#DejaVuSans-38"/>
      </g>
     </g>
    </g>
    <g id="ytick_4">
     <g id="line2d_11">
      <g>
       <use href="#m53d53409c9" x="46.779661" y="188.948864" style="fill: #242424; stroke: #242424; stroke-width: 0.8"/>
      </g>
     </g>
     <g id="text_12">
      <g transform="translate(27.054661 192.748082) scale(0.1 -0.1)">
       <use href="#DejaVuSans-31"/>
       <use href="#DejaVuSans-30" transform="translate(63.623047 0)"/>
      </g>
     </g>
    </g>
    <g id="ytick_5">
     <g id="line2d_12">
      <g>
       <use href="#m53d53409c9" x="46.779661" y="156.179752" style="fill: #242424; stroke: #242424; stroke-width: 0.8"/>
      </g>
     </g>
     <g id="text_13">
      <g transform="translate(27.054661 159.978971) scale(0.1 -0.1)">
       <use href="#DejaVuSans-31"/>
       <use href="#DejaVuSans-32" transform="translate(63.623047 0)"/>
      </g>
     </g>
    </g>
    <g id="ytick_6">
     <g id="line2d_13">
      <g>
       <use href="#m53d53409c9" x="46.779661" y="123.41064" style="fill: #242424; stroke: #242424; stroke-width: 0.8"/>
      </g>
     </g>
     <g id="text_14">
      <g transform="translate(27.054661 127.209859) scale(0.1 -0.1)">
       <use href="#DejaVuSans-31"/>
       <use href="#DejaVuSans-34" transform="translate(63.623047 0)"/>
      </g>
     </g>
    </g>
    <g id="ytick_7">
     <g id="line2d_14">
      <g>
       <use href="#m53d53409c9" x="46.779661" y="90.641529" style="fill: #242424; stroke: #242424; stroke-width: 0.8"/>
      </g>
     </g>
     <g id="text_15">
      <g transform="translate(27.054661 94.440748) scale(0.1 -0.1)">
       <use href="#DejaVuSans-31"/>
       <use href="#DejaVuSans-36" transform="translate(63.623047 0)"/>
      </g>
     </g>
    </g>
    <g id="ytick_8">
     <g id="line2d_15">
      <g>
       <use href="#m53d53409c9" x="46.779661" y="57.872417" style="fill: #242424; stroke: #242424; stroke-width: 0.8"/>
      </g>
     </g>
     <g id="text_16">
      <g transform="translate(27.054661 61.671636) scale(0.1 -0.1)">
       <use href="#DejaVuSans-31"/>
       <use href="#DejaVuSans-38" transform="translate(63.623047 0)"/>
      </g>
     </g>
    </g>
    <g id="ytick_9">
     <g id="line2d_16">
      <g>
       <use href="#m53d53409c9" x="46.779661" y="25.103306" style="fill: #242424; stroke: #242424; stroke-width: 0.8"/>
      </g>
     </g>
     <g id="text_17">
      <g transform="translate(27.054661 28.902525) scale(0.1 -0.1)">
       <use href="#DejaVuSans-32"/>
       <use href="#DejaVuSans-30" transform="translate(63.623047 0)"/>
      </g>
     </g>
    </g>
    <g id="text_18">
     <g transform="translate(19.534974 179.839908) rotate(-90) scale(0.1 -0.1)">
      <use href="#DejaVuSans-46"/>
      <use href="#DejaVuSans-65" transform="translate(52.019531 0)"/>
      <use href="#DejaVuSans-61" transform="translate(113.542969 0)"/>
      <use href="#DejaVuSans-74" transform="translate(174.822266 0)"/>
      <use href="#DejaVuSans-75" transform="translate(214.03125 0)"/>
      <use href="#DejaVuSans-72" transform="translate(277.410156 0)"/>
      <use href="#DejaVuSans-65" transform="translate(316.273438 0)"/>
      <use href="#DejaVuSans-20" transform="translate(377.796875 0)"/>
      <use href="#DejaVuSans-32" transform="translate(409.583984 0)"/>
     </g>
    </g>
   </g>
   <g id="QuadContourSet_2">
    <path d="M 52.709426 16.911028 
L 55.706353 27.158225 
L 58.772713 36.826201 
L 61.85152 45.789492 
L 64.96251 54.173563 
L 67.939727 61.62607 
L 71.141711 69.078577 
L 74.59643 76.531084 
L 78.071878 83.473286 
L 81.358456 89.572971 
L 84.583545 95.162351 
L 88.364765 101.258182 
L 92.224598 107.018975 
L 96.084431 112.357305 
L 100.113015 117.519872 
L 104.031946 122.177689 
L 108.259744 126.835506 
L 111.894551 130.561759 
L 115.78529 134.288013 
L 120.53004 138.496234 
L 124.480815 141.74052 
L 129.536316 145.578933 
L 134.738684 149.193027 
L 139.829204 152.430083 
L 144.975648 155.42805 
L 150.122092 158.173552 
L 155.268536 160.687616 
L 160.832802 163.166477 
L 166.848034 165.591874 
L 173.281089 167.917423 
L 179.714144 169.99098 
L 186.147199 171.834932 
L 192.580254 173.46905 
L 200.29992 175.177554 
L 208.019585 176.635775 
L 215.739251 177.867107 
L 224.396586 179.003055 
L 232.465194 179.851094 
L 241.471471 180.579044 
L 250.477747 181.097958 
L 260.770635 181.459673 
L 271.063523 181.598627 
L 282.643022 181.515751 
L 294.22252 181.205442 
L 307.08863 180.622087 
L 319.95474 179.814068 
L 334.10746 178.693841 
L 348.260181 177.357277 
L 363.699512 175.679558 
L 380.425455 173.632242 
L 398.438009 171.19111 
L 417.737173 168.336098 
L 417.737173 168.336098 
" clip-path="url(#pa65eab0f58)" style="fill: none; stroke: #444444; stroke-width: 0.6"/>
   </g>
   <g id="QuadContourSet_3">
    <path d="M 52.709426 16.911028 
L 55.706353 27.158225 
L 58.772713 36.826201 
L 61.85152 45.789492 
L 64.96251 54.173563 
L 67.939727 61.62607 
L 71.141711 69.078577 
L 74.59643 76.531084 
L 78.071878 83.473286 
L 81.358456 89.572971 
L 84.583545 95.162351 
L 88.364765 101.258182 
L 92.224598 107.018975 
L 96.084431 112.357305 
L 100.113015 117.519872 
L 104.031946 122.177689 
L 108.259744 126.835506 
L 111.894551 130.561759 
L 115.78529 134.288013 
L 120.53004 138.496234 
L 124.480815 141.74052 
L 129.536316 145.578933 
L 134.738684 149.193027 
L 139.829204 152.430083 
L 144.975648 155.42805 
L 150.122092 158.173552 
L 155.268536 160.687616 
L 160.832802 163.166477 
L 166.848034 165.591874 
L 173.281089 167.917423 
L 179.714144 169.99098 
L 186.147199 171.834932 
L 192.580254 173.46905 
L 200.29992 175.177554 
L 208.019585 176.635775 
L 215.739251 177.867107 
L 224.396586 179.003055 
L 232.465194 179.851094 
L 241.471471 180.579044 
L 250.477747 181.097958 
L 260.770635 181.459673 
L 271.063523 181.598627 
L 282.643022 181.515751 
L 294.22252 181.205442 
L 307.08863 180.622087 
L 319.95474 179.814068 
L 334.10746 178.693841 
L 348.260181 177.357277 
L 363.699512 175.679558 
L 380.425455 173.632242 
L 398.438009 171.19111 
L 417.737173 168.336098 
L 417.737173 168.336098 
" clip-path="url(#pa65eab0f58)" style="fill: none"/>
   </g>
   <g id="PathCollection_1">
    <defs>
     <path id="me974ac04a6" d="M 0 3 
C 0.795609 3 1.55874 2.683901 2.12132 2.12132 
C 2.683901 1.55874 3 0.795609 3 0 
C 3 -0.795609 2.683901 -1.55874 2.12132 -2.12132 
C 1.55874 -2.683901 0.795609 -3 0 -3 
C -0.795609 -3 -1.55874 -2.683901 -2.12132 -2.12132 
C -2.683901 -1.55874 -3 -0.795609 -3 0 
C -3 0.795609 -2.683901 1.55874 -2.12132 2.12132 
C -1.55874 2.683901 -0.795609 3 0 3 
z
" style="stroke: #800080"/>
    </defs>
    <g clip-path="url(#pa65eab0f58)">
     <use href="#me974ac04a6" x="44.389046" y="9.374132" style="fill: #800080; stroke: #800080"/>
     <use href="#me974ac04a6" x="47.136879" y="9.374132" style="fill: #800080; stroke: #800080"/>
     <use href="#me974ac04a6" x="49.884713" y="10.029514" style="fill: #800080; stroke: #800080"/>
     <use href="#me974ac04a6" x="49.884713" y="9.374132" style="fill: #800080; stroke: #800080"/>
     <use href="#me974ac04a6" x="52.632546" y="19.860248" style="fill: #800080; stroke: #800080"/>
     <use href="#me974ac04a6" x="52.632546" y="19.204866" style="fill: #800080; stroke: #800080"/>
     <use href="#me974ac04a6" x="52.632546" y="18.549483" style="fill: #800080; stroke: #800080"/>
     <use href="#me974ac04a6" x="52.632546" y="17.894101" style="fill: #800080; stroke: #800080"/>
     <use href="#me974ac04a6" x="52.632546" y="17.238719" style="fill: #800080; stroke: #800080"/>
     <use href="#me974ac04a6" x="52.632546" y="16.583337" style="fill: #800080; stroke: #800080"/>
     <use href="#me974ac04a6" x="52.632546" y="15.927955" style="fill: #800080; stroke: #800080"/>
     <use href="#me974ac04a6" x="52.632546" y="15.272572" style="fill: #800080; stroke: #800080"/>
     <use href="#me974ac04a6" x="52.632546" y="14.61719" style="fill: #800080; stroke: #800080"/>
     <use href="#me974ac04a6" x="52.632546" y="13.961808" style="fill: #800080; stroke: #800080"/>
     <use href="#me974ac04a6" x="52.632546" y="13.306426" style="fill: #800080; stroke: #800080"/>
     <use href="#me974ac04a6" x="55.38038" y="29.035599" style="fill: #800080; stroke: #800080"/>
     <use href="#me974ac04a6" x="55.38038" y="28.380217" style="fill: #800080; stroke: #800080"/>
     <use href="#me974ac04a6" x="55.38038" y="27.724835" style="fill: #800080; stroke: #800080"/>
     <use href="#me974ac04a6" x="55.38038" y="27.069452" style="fill: #800080; stroke: #800080"/>
     <use href="#me974ac04a6" x="55.38038" y="26.41407" style="fill: #800080; stroke: #800080"/>
     <use href="#me974ac04a6" x="55.38038" y="25.758688" style="fill: #800080; stroke: #800080"/>
     <use href="#me974ac04a6" x="55.38038" y="25.103306" style="fill: #800080; stroke: #800080"/>
     <use href="#me974ac04a6" x="55.38038" y="24.447924" style="fill: #800080; stroke: #800080"/>
     <use href="#me974ac04a6" x="55.38038" y="23.792541" style="fill: #800080; stroke: #800080"/>
     <use href="#me974ac04a6" x="55.38038" y="23.137159" style="fill: #800080; stroke: #800080"/>
     <use href="#me974ac04a6" x="58.128213" y="37.555568" style="fill: #800080; stroke: #800080"/>
     <use href="#me974ac04a6" x="58.128213" y="36.900186" style="fill: #800080; stroke: #800080"/>
     <use href="#me974ac04a6" x="58.128213" y="36.244804" style="fill: #800080; stroke: #800080"/>
     <use href="#me974ac04a6" x="58.128213" y="35.589421" style="fill: #800080; stroke: #800080"/>
     <use href="#me974ac04a6" x="58.128213" y="34.934039" style="fill: #800080; stroke: #800080"/>
     <use href="#me974ac04a6" x="58.128213" y="34.278657" style="fill: #800080; stroke: #800080"/>
     <use href="#me974ac04a6" x="58.128213" y="33.623275" style="fill: #800080; stroke: #800080"/>
     <use href="#me974ac04a6" x="58.128213" y="32.967893" style="fill: #800080; stroke: #800080"/>
     <use href="#me974ac04a6" x="58.128213" y="32.31251" style="fill: #800080; stroke: #800080"/>
     <use href="#me974ac04a6" x="58.128213" y="31.657128" style="fill: #800080; stroke: #800080"/>
     <use href="#me974ac04a6" x="60.876046" y="45.420155" style="fill: #800080; stroke: #800080"/>
     <use href="#me974ac04a6" x="60.876046" y="44.764773" style="fill: #800080; stroke: #800080"/>
     <use href="#me974ac04a6" x="60.876046" y="44.10939" style="fill: #800080; stroke: #800080"/>
     <use href="#me974ac04a6" x="60.876046" y="43.454008" style="fill: #800080; stroke: #800080"/>
     <use href="#me974ac04a6" x="60.876046" y="42.798626" style="fill: #800080; stroke: #800080"/>
     <use href="#me974ac04a6" x="60.876046" y="42.143244" style="fill: #800080; stroke: #800080"/>
     <use href="#me974ac04a6" x="60.876046" y="41.487862" style="fill: #800080; stroke: #800080"/>
     <use href="#me974ac04a6" x="60.876046" y="40.832479" style="fill: #800080; stroke: #800080"/>
     <use href="#me974ac04a6" x="60.876046" y="40.177097" style="fill: #800080; stroke: #800080"/>
     <use href="#me974ac04a6" x="63.62388" y="53.284742" style="fill: #800080; stroke: #800080"/>
     <use href="#me974ac04a6" x="63.62388" y="52.62936" style="fill: #800080; stroke: #800080"/>
     <use href="#me974ac04a6" x="63.62388" y="51.973977" style="fill: #800080; stroke: #800080"/>
     <use href="#me974ac04a6" x="63.62388" y="51.318595" style="fill: #800080; stroke: #800080"/>
     <use href="#me974ac04a6" x="63.62388" y="50.663213" style="fill: #800080; stroke: #800080"/>
     <use href="#me974ac04a6" x="63.62388" y="50.007831" style="fill: #800080; stroke: #800080"/>
     <use href="#me974ac04a6" x="63.62388" y="49.352448" style="fill: #800080; stroke: #800080"/>
     <use href="#me974ac04a6" x="63.62388" y="48.697066" style="fill: #800080; stroke: #800080"/>
     <use href="#me974ac04a6" x="63.62388" y="48.041684" style="fill: #800080; stroke: #800080"/>
     <use href="#me974ac04a6" x="66.371713" y="59.838564" style="fill: #800080; stroke: #800080"/>
     <use href="#me974ac04a6" x="66.371713" y="59.183182" style="fill: #800080; stroke: #800080"/>
     <use href="#me974ac04a6" x="66.371713" y="58.5278" style="fill: #800080; stroke: #800080"/>
     <use href="#me974ac04a6" x="66.371713" y="57.872417" style="fill: #800080; stroke: #800080"/>
     <use href="#me974ac04a6" x="66.371713" y="57.217035" style="fill: #800080; stroke: #800080"/>
     <use href="#me974ac04a6" x="66.371713" y="56.561653" style="fill: #800080; stroke: #800080"/>
     <use href="#me974ac04a6" x="66.371713" y="55.906271" style="fill: #800080; stroke: #800080"/>
     <use href="#me974ac04a6" x="66.371713" y="55.250888" style="fill: #800080; stroke: #800080"/>
     <use href="#me974ac04a6" x="69.119547" y="66.392386" style="fill: #800080; stroke: #800080"/>
     <use href="#me974ac04a6" x="69.119547" y="65.737004" style="fill: #800080; stroke: #800080"/>
     <use href="#me974ac04a6" x="69.119547" y="65.081622" style="fill: #800080; stroke: #800080"/>
     <use href="#me974ac04a6" x="69.119547" y="64.42624" style="fill: #800080; stroke: #800080"/>
     <use href="#me974ac04a6" x="69.119547" y="63.770857" style="fill: #800080; stroke: #800080"/>
     <use href="#me974ac04a6" x="69.119547" y="63.115475" style="fill: #800080; stroke: #800080"/>
     <use href="#me974ac04a6" x="69.119547" y="62.460093" style="fill: #800080; stroke: #800080"/>
     <use href="#me974ac04a6" x="71.86738" y="72.290826" style="fill: #800080; stroke: #800080"/>
     <use href="#me974ac04a6" x="71.86738" y="71.635444" style="fill: #800080; stroke: #800080"/>
     <use href="#me974ac04a6" x="71.86738" y="70.980062" style="fill: #800080; stroke: #800080"/>
     <use href="#me974ac04a6" x="71.86738" y="70.32468" style="fill: #800080; stroke: #800080"/>
     <use href="#me974ac04a6" x="71.86738" y="69.669298" style="fill: #800080; stroke: #800080"/>
     <use href="#me974ac04a6" x="71.86738" y="69.013915" style="fill: #800080; stroke: #800080"/>
     <use href="#me974ac04a6" x="74.615214" y="78.189267" style="fill: #800080; stroke: #800080"/>
     <use href="#me974ac04a6" x="74.615214" y="77.533884" style="fill: #800080; stroke: #800080"/>
     <use href="#me974ac04a6" x="74.615214" y="76.878502" style="fill: #800080; stroke: #800080"/>
     <use href="#me974ac04a6" x="74.615214" y="76.22312" style="fill: #800080; stroke: #800080"/>
     <use href="#me974ac04a6" x="74.615214" y="75.567738" style="fill: #800080; stroke: #800080"/>
     <use href="#me974ac04a6" x="74.615214" y="74.912355" style="fill: #800080; stroke: #800080"/>
     <use href="#me974ac04a6" x="77.363047" y="83.432324" style="fill: #800080; stroke: #800080"/>
     <use href="#me974ac04a6" x="77.363047" y="82.776942" style="fill: #800080; stroke: #800080"/>
     <use href="#me974ac04a6" x="77.363047" y="82.12156" style="fill: #800080; stroke: #800080"/>
     <use href="#me974ac04a6" x="77.363047" y="81.466178" style="fill: #800080; stroke: #800080"/>
     <use href="#me974ac04a6" x="77.363047" y="80.810795" style="fill: #800080; stroke: #800080"/>
     <use href="#me974ac04a6" x="80.11088" y="88.675382" style="fill: #800080; stroke: #800080"/>
     <use href="#me974ac04a6" x="80.11088" y="88.02" style="fill: #800080; stroke: #800080"/>
     <use href="#me974ac04a6" x="80.11088" y="87.364618" style="fill: #800080; stroke: #800080"/>
     <use href="#me974ac04a6" x="80.11088" y="86.709236" style="fill: #800080; stroke: #800080"/>
     <use href="#me974ac04a6" x="80.11088" y="86.053853" style="fill: #800080; stroke: #800080"/>
     <use href="#me974ac04a6" x="82.858714" y="93.263058" style="fill: #800080; stroke: #800080"/>
     <use href="#me974ac04a6" x="82.858714" y="92.607676" style="fill: #800080; stroke: #800080"/>
     <use href="#me974ac04a6" x="82.858714" y="91.952293" style="fill: #800080; stroke: #800080"/>
     <use href="#me974ac04a6" x="82.858714" y="91.296911" style="fill: #800080; stroke: #800080"/>
     <use href="#me974ac04a6" x="85.606547" y="97.850733" style="fill: #800080; stroke: #800080"/>
     <use href="#me974ac04a6" x="85.606547" y="97.195351" style="fill: #800080; stroke: #800080"/>
     <use href="#me974ac04a6" x="85.606547" y="96.539969" style="fill: #800080; stroke: #800080"/>
     <use href="#me974ac04a6" x="85.606547" y="95.884587" style="fill: #800080; stroke: #800080"/>
     <use href="#me974ac04a6" x="88.354381" y="102.438409" style="fill: #800080; stroke: #800080"/>
     <use href="#me974ac04a6" x="88.354381" y="101.783027" style="fill: #800080; stroke: #800080"/>
     <use href="#me974ac04a6" x="88.354381" y="101.127645" style="fill: #800080; stroke: #800080"/>
     <use href="#me974ac04a6" x="88.354381" y="100.472262" style="fill: #800080; stroke: #800080"/>
     <use href="#me974ac04a6" x="91.102214" y="106.370702" style="fill: #800080; stroke: #800080"/>
     <use href="#me974ac04a6" x="91.102214" y="105.71532" style="fill: #800080; stroke: #800080"/>
     <use href="#me974ac04a6" x="91.102214" y="105.059938" style="fill: #800080; stroke: #800080"/>
     <use href="#me974ac04a6" x="91.102214" y="104.404556" style="fill: #800080; stroke: #800080"/>
     <use href="#me974ac04a6" x="93.850048" y="109.647614" style="fill: #800080; stroke: #800080"/>
     <use href="#me974ac04a6" x="93.850048" y="108.992231" style="fill: #800080; stroke: #800080"/>
     <use href="#me974ac04a6" x="96.597881" y="113.579907" style="fill: #800080; stroke: #800080"/>
     <use href="#me974ac04a6" x="96.597881" y="112.924525" style="fill: #800080; stroke: #800080"/>
     <use href="#me974ac04a6" x="96.597881" y="112.269143" style="fill: #800080; stroke: #800080"/>
     <use href="#me974ac04a6" x="99.345714" y="116.856818" style="fill: #800080; stroke: #800080"/>
     <use href="#me974ac04a6" x="99.345714" y="116.201436" style="fill: #800080; stroke: #800080"/>
     <use href="#me974ac04a6" x="102.093548" y="120.133729" style="fill: #800080; stroke: #800080"/>
     <use href="#me974ac04a6" x="102.093548" y="119.478347" style="fill: #800080; stroke: #800080"/>
     <use href="#me974ac04a6" x="104.841381" y="123.41064" style="fill: #800080; stroke: #800080"/>
     <use href="#me974ac04a6" x="104.841381" y="122.755258" style="fill: #800080; stroke: #800080"/>
     <use href="#me974ac04a6" x="107.589215" y="126.032169" style="fill: #800080; stroke: #800080"/>
     <use href="#me974ac04a6" x="110.337048" y="129.309081" style="fill: #800080; stroke: #800080"/>
     <use href="#me974ac04a6" x="110.337048" y="128.653698" style="fill: #800080; stroke: #800080"/>
     <use href="#me974ac04a6" x="113.084882" y="131.93061" style="fill: #800080; stroke: #800080"/>
     <use href="#me974ac04a6" x="115.832715" y="134.552138" style="fill: #800080; stroke: #800080"/>
     <use href="#me974ac04a6" x="118.580548" y="137.173667" style="fill: #800080; stroke: #800080"/>
     <use href="#me974ac04a6" x="118.580548" y="136.518285" style="fill: #800080; stroke: #800080"/>
     <use href="#me974ac04a6" x="121.328382" y="139.139814" style="fill: #800080; stroke: #800080"/>
     <use href="#me974ac04a6" x="124.076215" y="141.105961" style="fill: #800080; stroke: #800080"/>
     <use href="#me974ac04a6" x="126.824049" y="143.72749" style="fill: #800080; stroke: #800080"/>
     <use href="#me974ac04a6" x="129.571882" y="145.693636" style="fill: #800080; stroke: #800080"/>
     <use href="#me974ac04a6" x="132.319715" y="147.659783" style="fill: #800080; stroke: #800080"/>
     <use href="#me974ac04a6" x="135.067549" y="149.62593" style="fill: #800080; stroke: #800080"/>
     <use href="#me974ac04a6" x="137.815382" y="150.936694" style="fill: #800080; stroke: #800080"/>
     <use href="#me974ac04a6" x="140.563216" y="152.902841" style="fill: #800080; stroke: #800080"/>
     <use href="#me974ac04a6" x="143.311049" y="154.213605" style="fill: #800080; stroke: #800080"/>
     <use href="#me974ac04a6" x="146.058883" y="156.179752" style="fill: #800080; stroke: #800080"/>
     <use href="#me974ac04a6" x="148.806716" y="157.490517" style="fill: #800080; stroke: #800080"/>
     <use href="#me974ac04a6" x="154.695912" y="160.417979" style="fill: #800080; stroke: #800080"/>
     <use href="#me974ac04a6" x="159.242273" y="162.481884" style="fill: #800080; stroke: #800080"/>
     <use href="#me974ac04a6" x="161.814556" y="163.579794" style="fill: #800080; stroke: #800080"/>
     <use href="#me974ac04a6" x="166.959123" y="165.633941" style="fill: #800080; stroke: #800080"/>
     <use href="#me974ac04a6" x="172.103689" y="167.510984" style="fill: #800080; stroke: #800080"/>
     <use href="#me974ac04a6" x="176.889332" y="169.109238" style="fill: #800080; stroke: #800080"/>
     <use href="#me974ac04a6" x="185.024925" y="171.528639" style="fill: #800080; stroke: #800080"/>
     <use href="#me974ac04a6" x="192.741775" y="173.507115" style="fill: #800080; stroke: #800080"/>
     <use href="#me974ac04a6" x="200.099701" y="175.13605" style="fill: #800080; stroke: #800080"/>
     <use href="#me974ac04a6" x="211.1665" y="177.163364" style="fill: #800080; stroke: #800080"/>
     <use href="#me974ac04a6" x="223.788634" y="178.931098" style="fill: #800080; stroke: #800080"/>
     <use href="#me974ac04a6" x="244.067797" y="180.749152" style="fill: #800080; stroke: #800080"/>
     <use href="#me974ac04a6" x="305.922233" y="180.684521" style="fill: #800080; stroke: #800080"/>
     <use href="#me974ac04a6" x="334.636092" y="178.647438" style="fill: #800080; stroke: #800080"/>
     <use href="#me974ac04a6" x="354.975075" y="176.654127" style="fill: #800080; stroke: #800080"/>
     <use href="#me974ac04a6" x="370.648056" y="174.856286" style="fill: #800080; stroke: #800080"/>
     <use href="#me974ac04a6" x="385.902293" y="172.914446" style="fill: #800080; stroke: #800080"/>
     <use href="#me974ac04a6" x="398.763709" y="171.144792" style="fill: #800080; stroke: #800080"/>
    </g>
   </g>
   <g id="patch_3">
    <path d="M 46.779661 287.256198 
L 46.779661 25.103306 
" style="fill: none; stroke: #242424; stroke-width: 0.8; stroke-linejoin: miter; stroke-linecap: square"/>
   </g>
   <g id="patch_4">
    <path d="M 403.998006 287.256198 
L 403.998006 25.103306 
" style="fill: none; stroke: #242424; stroke-width: 0.8; stroke-linejoin: miter; stroke-linecap: square"/>
   </g>
   <g id="patch_5">
    <path d="M 46.779661 287.256198 
L 403.998006 287.256198 
" style="fill: none; stroke: #242424; stroke-width: 0.8; stroke-linejoin: miter; stroke-linecap: square"/>
   </g>
   <g id="patch_6">
    <path d="M 46.779661 25.103306 
L 403.998006 25.103306 
" style="fill: none; stroke: #242424; stroke-width: 0.8; stroke-linejoin: miter; stroke-linecap: square"/>
   </g>
   <g id="text_19">
    <g transform="translate(190.119146 19.103306) scale(0.12 -0.12)">
     <defs>
      <path id="DejaVuSans-54" d="M -19 4666 
L 3928 4666 
L 3928 4134 
L 2272 4134 
L 2272 0 
L 1638 0 
L 1638 4134 
L -19 4134 
L -19 4666 
z
" transform="scale(0.015625)"/>
      <path id="DejaVuSans-6f" d="M 1959 3097 
Q 1497 3097 1228 2736 
Q 959 2375 959 1747 
Q 959 1119 1226 758 
Q 1494 397 1959 397 
Q 2419 397 2687 759 
Q 2956 1122 2956 1747 
Q 2956 2369 2687 2733 
Q 2419 3097 1959 3097 
z
M 1959 3584 
Q 2709 3584 3137 3096 
Q 3566 2609 3566 1747 
Q 3566 888 3137 398 
Q 2709 -91 1959 -91 
Q 1206 -91 779 398 
Q 353 888 353 1747 
Q 353 2609 779 3096 
Q 1206 3584 1959 3584 
z
" transform="scale(0.015625)"/>
      <path id="DejaVuSans-79" d="M 2059 -325 
Q 1816 -950 1584 -1140 
Q 1353 -1331 966 -1331 
L 506 -1331 
L 506 -850 
L 844 -850 
Q 1081 -850 1212 -737 
Q 1344 -625 1503 -206 
L 1606 56 
L 191 3500 
L 800 3500 
L 1894 763 
L 2988 3500 
L 3597 3500 
L 2059 -325 
z
" transform="scale(0.015625)"/>
      <path id="DejaVuSans-44" d="M 1259 4147 
L 1259 519 
L 2022 519 
Q 2988 519 3436 956 
Q 3884 1394 3884 2338 
Q 3884 3275 3436 3711 
Q 2988 4147 2022 4147 
L 1259 4147 
z
M 628 4666 
L 1925 4666 
Q 3281 4666 3915 4102 
Q 4550 3538 4550 2338 
Q 4550 1131 3912 565 
Q 3275 0 1925 0 
L 628 0 
L 628 4666 
z
" transform="scale(0.015625)"/>
      <path id="DejaVuSans-73" d="M 2834 3397 
L 2834 2853 
Q 2591 2978 2328 3040 
Q 2066 3103 1784 3103 
Q 1356 3103 1142 2972 
Q 928 2841 928 2578 
Q 928 2378 1081 2264 
Q 1234 2150 1697 2047 
L 1894 2003 
Q 2506 1872 2764 1633 
Q 3022 1394 3022 966 
Q 3022 478 2636 193 
Q 2250 -91 1575 -91 
Q 1294 -91 989 -36 
Q 684 19 347 128 
L 347 722 
Q 666 556 975 473 
Q 1284 391 1588 391 
Q 1994 391 2212 530 
Q 2431 669 2431 922 
Q 2431 1156 2273 1281 
Q 2116 1406 1581 1522 
L 1381 1569 
Q 847 1681 609 1914 
Q 372 2147 372 2553 
Q 372 3047 722 3315 
Q 1072 3584 1716 3584 
Q 2034 3584 2315 3537 
Q 2597 3491 2834 3397 
z
" transform="scale(0.015625)"/>
     </defs>
     <use href="#DejaVuSans-54"/>
     <use href="#DejaVuSans-6f" transform="translate(44.083984 0)"/>
     <use href="#DejaVuSans-79" transform="translate(105.265625 0)"/>
     <use href="#DejaVuSans-20" transform="translate(164.445312 0)"/>
     <use href="#DejaVuSans-44" transform="translate(196.232422 0)"/>
     <use href="#DejaVuSans-61" transform="translate(273.234375 0)"/>
     <use href="#DejaVuSans-74" transform="translate(334.513672 0)"/>
     <use href="#DejaVuSans-61" transform="translate(373.722656 0)"/>
     <use href="#DejaVuSans-73" transform="translate(435.001953 0)"/>
     <use href="#DejaVuSans-65" transform="translate(487.101562 0)"/>
     <use href="#DejaVuSans-74" transform="translate(548.625 0)"/>
    </g>
   </g>
   <g id="PathCollection_2">
    <defs>
     <path id="m084c841ee3" d="M 0 3 
C 0.795609 3 1.55874 2.683901 2.12132 2.12132 
C 2.683901 1.55874 3 0.795609 3 0 
C 3 -0.795609 2.683901 -1.55874 2.12132 -2.12132 
C 1.55874 -2.683901 0.795609 -3 0 -3 
C -0.795609 -3 -1.55874 -2.683901 -2.12132 -2.12132 
C -2.683901 -1.55874 -3 -0.795609 -3 0 
C -3 0.795609 -2.683901 1.55874 -2.12132 2.12132 
C -1.55874 2.683901 -0.795609 3 0 3 
z
" style="stroke: #ff0000"/>
    </defs>
    <g clip-path="url(#pa65eab0f58)">
     <use href="#m084c841ee3" x="156.692998" y="25.437988" style="fill: #ff0000; stroke: #ff0000"/>
     <use href="#m084c841ee3" x="211.649666" y="41.822544" style="fill: #ff0000; stroke: #ff0000"/>
     <use href="#m084c841ee3" x="239.128001" y="74.591655" style="fill: #ff0000; stroke: #ff0000"/>
     <use href="#m084c841ee3" x="266.606335" y="107.360767" style="fill: #ff0000; stroke: #ff0000"/>
     <use href="#m084c841ee3" x="376.519672" y="74.591655" style="fill: #ff0000; stroke: #ff0000"/>
     <use href="#m084c841ee3" x="403.998006" y="90.976211" style="fill: #ff0000; stroke: #ff0000"/>
     <use href="#m084c841ee3" x="321.563003" y="123.745323" style="fill: #ff0000; stroke: #ff0000"/>
     <use href="#m084c841ee3" x="376.519672" y="123.745323" style="fill: #ff0000; stroke: #ff0000"/>
     <use href="#m084c841ee3" x="349.041338" y="156.514434" style="fill: #ff0000; stroke: #ff0000"/>
     <use href="#m084c841ee3" x="184.171332" y="156.514434" style="fill: #ff0000; stroke: #ff0000"/>
    </g>
   </g>
   <g id="PathCollection_3">
    <defs>
     <path id="m07ba7ed919" d="M 0 3 
C 0.795609 3 1.55874 2.683901 2.12132 2.12132 
C 2.683901 1.55874 3 0.795609 3 0 
C 3 -0.795609 2.683901 -1.55874 2.12132 -2.12132 
C 1.55874 -2.683901 0.795609 -3 0 -3 
C -0.795609 -3 -1.55874 -2.683901 -2.12132 -2.12132 
C -2.683901 -1.55874 -3 -0.795609 -3 0 
C -3 0.795609 -2.683901 1.55874 -2.12132 2.12132 
C -1.55874 2.683901 -0.795609 3 0 3 
z
" style="stroke: #0000ff"/>
    </defs>
    <g clip-path="url(#pa65eab0f58)">
     <use href="#m07ba7ed919" x="74.257995" y="107.360767" style="fill: #0000ff; stroke: #0000ff"/>
     <use href="#m07ba7ed919" x="115.475497" y="156.514434" style="fill: #0000ff; stroke: #0000ff"/>
     <use href="#m07ba7ed919" x="156.692998" y="189.283546" style="fill: #0000ff; stroke: #0000ff"/>
     <use href="#m07ba7ed919" x="184.171332" y="189.283546" style="fill: #0000ff; stroke: #0000ff"/>
     <use href="#m07ba7ed919" x="211.649666" y="205.668102" style="fill: #0000ff; stroke: #0000ff"/>
     <use href="#m07ba7ed919" x="239.128001" y="222.052657" style="fill: #0000ff; stroke: #0000ff"/>
     <use href="#m07ba7ed919" x="294.084669" y="205.668102" style="fill: #0000ff; stroke: #0000ff"/>
     <use href="#m07ba7ed919" x="294.084669" y="238.437213" style="fill: #0000ff; stroke: #0000ff"/>
     <use href="#m07ba7ed919" x="266.606335" y="271.206325" style="fill: #0000ff; stroke: #0000ff"/>
     <use href="#m07ba7ed919" x="321.563003" y="189.283546" style="fill: #0000ff; stroke: #0000ff"/>
    </g>
   </g>
   <g id="line2d_17">
    <path d="M 266.606335 107.026085 
L 242.811565 185.652893 
" clip-path="url(#pa65eab0f58)" style="fill: none; stroke-dasharray: 5.55,2.4; stroke-dashoffset: 0; stroke: #1f77b4; stroke-width: 1.5"/>
   </g>
   <g id="PathCollection_4">
    <defs>
     <path id="maef9e21243" d="M 0 3 
C 0.795609 3 1.55874 2.683901 2.12132 2.12132 
C 2.683901 1.55874 3 0.795609 3 0 
C 3 -0.795609 2.683901 -1.55874 2.12132 -2.12132 
C 1.55874 -2.683901 0.795609 -3 0 -3 
C -0.795609 -3 -1.55874 -2.683901 -2.12132 -2.12132 
C -2.683901 -1.55874 -3 -0.795609 -3 0 
C -3 0.795609 -2.683901 1.55874 -2.12132 2.12132 
C -1.55874 2.683901 -0.795609 3 0 3 
z
" style="stroke: #008000"/>
    </defs>
    <g clip-path="url(#pa65eab0f58)">
     <use href="#maef9e21243" x="242.811565" y="185.652893" style="fill: #008000; stroke: #008000"/>
    </g>
   </g>
   <g id="legend_1">
    <g id="patch_7">
     <path d="M 53.779661 282.256198 
L 207.692161 282.256198 
Q 209.692161 282.256198 209.692161 280.256198 
L 209.692161 222.543698 
Q 209.692161 220.543698 207.692161 220.543698 
L 53.779661 220.543698 
Q 51.779661 220.543698 51.779661 222.543698 
L 51.779661 280.256198 
Q 51.779661 282.256198 53.779661 282.256198 
z
" style="fill: #ffffff; opacity: 0.8; stroke: #cccccc; stroke-linejoin: miter"/>
    </g>
    <g id="patch_8">
     <path d="M 55.779661 232.142136 
L 75.779661 232.142136 
L 75.779661 225.142136 
L 55.779661 225.142136 
z
" style="fill: #ff0000; stroke: #ff0000; stroke-linejoin: miter"/>
    </g>
    <g id="text_20">
     <g transform="translate(83.779661 232.142136) scale(0.1 -0.1)">
      <defs>
       <path id="DejaVuSans-4e" d="M 628 4666 
L 1478 4666 
L 3547 763 
L 3547 4666 
L 4159 4666 
L 4159 0 
L 3309 0 
L 1241 3903 
L 1241 0 
L 628 0 
L 628 4666 
z
" transform="scale(0.015625)"/>
       <path id="DejaVuSans-48" d="M 628 4666 
L 1259 4666 
L 1259 2753 
L 3553 2753 
L 3553 4666 
L 4184 4666 
L 4184 0 
L 3553 0 
L 3553 2222 
L 1259 2222 
L 1259 0 
L 628 0 
L 628 4666 
z
" transform="scale(0.015625)"/>
       <path id="DejaVuSans-6c" d="M 603 4863 
L 1178 4863 
L 1178 0 
L 603 0 
L 603 4863 
z
" transform="scale(0.015625)"/>
       <path id="DejaVuSans-68" d="M 3513 2113 
L 3513 0 
L 2938 0 
L 2938 2094 
Q 2938 2591 2744 2837 
Q 2550 3084 2163 3084 
Q 1697 3084 1428 2787 
Q 1159 2491 1159 1978 
L 1159 0 
L 581 0 
L 581 4863 
L 1159 4863 
L 1159 2956 
Q 1366 3272 1645 3428 
Q 1925 3584 2291 3584 
Q 2894 3584 3203 3211 
Q 3513 2838 3513 2113 
z
" transform="scale(0.015625)"/>
      </defs>
      <use href="#DejaVuSans-4e"/>
      <use href="#DejaVuSans-6f" transform="translate(74.804688 0)"/>
      <use href="#DejaVuSans-74" transform="translate(135.986328 0)"/>
      <use href="#DejaVuSans-20" transform="translate(175.195312 0)"/>
      <use href="#DejaVuSans-48" transform="translate(206.982422 0)"/>
      <use href="#DejaVuSans-65" transform="translate(282.177734 0)"/>
      <use href="#DejaVuSans-61" transform="translate(343.701172 0)"/>
      <use href="#DejaVuSans-6c" transform="translate(404.980469 0)"/>
      <use href="#DejaVuSans-74" transform="translate(432.763672 0)"/>
      <use href="#DejaVuSans-68" transform="translate(471.972656 0)"/>
      <use href="#DejaVuSans-79" transform="translate(535.351562 0)"/>
     </g>
    </g>
    <g id="patch_9">
     <path d="M 55.779661 246.820261 
L 75.779661 246.820261 
L 75.779661 239.820261 
L 55.779661 239.820261 
z
" style="fill: #0000ff; stroke: #0000ff; stroke-linejoin: miter"/>
    </g>
    <g id="text_21">
     <g transform="translate(83.779661 246.820261) scale(0.1 -0.1)">
      <use href="#DejaVuSans-48"/>
      <use href="#DejaVuSans-65" transform="translate(75.195312 0)"/>
      <use href="#DejaVuSans-61" transform="translate(136.71875 0)"/>
      <use href="#DejaVuSans-6c" transform="translate(197.998047 0)"/>
      <use href="#DejaVuSans-74" transform="translate(225.78125 0)"/>
      <use href="#DejaVuSans-68" transform="translate(264.990234 0)"/>
      <use href="#DejaVuSans-79" transform="translate(328.369141 0)"/>
     </g>
    </g>
    <g id="patch_10">
     <path d="M 55.779661 261.498386 
L 75.779661 261.498386 
L 75.779661 254.498386 
L 55.779661 254.498386 
z
" style="fill: #800080; stroke: #800080; stroke-linejoin: miter"/>
    </g>
    <g id="text_22">
     <g transform="translate(83.779661 261.498386) scale(0.1 -0.1)">
      <defs>
       <path id="DejaVuSans-63" d="M 3122 3366 
L 3122 2828 
Q 2878 2963 2633 3030 
Q 2388 3097 2138 3097 
Q 1578 3097 1268 2742 
Q 959 2388 959 1747 
Q 959 1106 1268 751 
Q 1578 397 2138 397 
Q 2388 397 2633 464 
Q 2878 531 3122 666 
L 3122 134 
Q 2881 22 2623 -34 
Q 2366 -91 2075 -91 
Q 1284 -91 818 406 
Q 353 903 353 1747 
Q 353 2603 823 3093 
Q 1294 3584 2113 3584 
Q 2378 3584 2631 3529 
Q 2884 3475 3122 3366 
z
" transform="scale(0.015625)"/>
       <path id="DejaVuSans-69" d="M 603 3500 
L 1178 3500 
L 1178 0 
L 603 0 
L 603 3500 
z
M 603 4863 
L 1178 4863 
L 1178 4134 
L 603 4134 
L 603 4863 
z
" transform="scale(0.015625)"/>
       <path id="DejaVuSans-6e" d="M 3513 2113 
L 3513 0 
L 2938 0 
L 2938 2094 
Q 2938 2591 2744 2837 
Q 2550 3084 2163 3084 
Q 1697 3084 1428 2787 
Q 1159 2491 1159 1978 
L 1159 0 
L 581 0 
L 581 3500 
L 1159 3500 
L 1159 2956 
Q 1366 3272 1645 3428 
Q 1925 3584 2291 3584 
Q 2894 3584 3203 3211 
Q 3513 2838 3513 2113 
z
" transform="scale(0.015625)"/>
       <path id="DejaVuSans-42" d="M 1259 2228 
L 1259 519 
L 2272 519 
Q 2781 519 3026 730 
Q 3272 941 3272 1375 
Q 3272 1813 3026 2020 
Q 2781 2228 2272 2228 
L 1259 2228 
z
M 1259 4147 
L 1259 2741 
L 2194 2741 
Q 2656 2741 2882 2914 
Q 3109 3088 3109 3444 
Q 3109 3797 2882 3972 
Q 2656 4147 2194 4147 
L 1259 4147 
z
M 628 4666 
L 2241 4666 
Q 2963 4666 3353 4366 
Q 3744 4066 3744 3513 
Q 3744 3084 3544 2831 
Q 3344 2578 2956 2516 
Q 3422 2416 3680 2098 
Q 3938 1781 3938 1306 
Q 3938 681 3513 340 
Q 3088 0 2303 0 
L 628 0 
L 628 4666 
z
" transform="scale(0.015625)"/>
       <path id="DejaVuSans-64" d="M 2906 2969 
L 2906 4863 
L 3481 4863 
L 3481 0 
L 2906 0 
L 2906 525 
Q 2725 213 2448 61 
Q 2172 -91 1784 -91 
Q 1150 -91 751 415 
Q 353 922 353 1747 
Q 353 2572 751 3078 
Q 1150 3584 1784 3584 
Q 2172 3584 2448 3432 
Q 2725 3281 2906 2969 
z
M 947 1747 
Q 947 1113 1208 752 
Q 1469 391 1925 391 
Q 2381 391 2643 752 
Q 2906 1113 2906 1747 
Q 2906 2381 2643 2742 
Q 2381 3103 1925 3103 
Q 1469 3103 1208 2742 
Q 947 2381 947 1747 
z
" transform="scale(0.015625)"/>
       <path id="DejaVuSans-50" d="M 1259 4147 
L 1259 2394 
L 2053 2394 
Q 2494 2394 2734 2622 
Q 2975 2850 2975 3272 
Q 2975 3691 2734 3919 
Q 2494 4147 2053 4147 
L 1259 4147 
z
M 628 4666 
L 2053 4666 
Q 2838 4666 3239 4311 
Q 3641 3956 3641 3272 
Q 3641 2581 3239 2228 
Q 2838 1875 2053 1875 
L 1259 1875 
L 1259 0 
L 628 0 
L 628 4666 
z
" transform="scale(0.015625)"/>
      </defs>
      <use href="#DejaVuSans-44"/>
      <use href="#DejaVuSans-65" transform="translate(77.001953 0)"/>
      <use href="#DejaVuSans-63" transform="translate(138.525391 0)"/>
      <use href="#DejaVuSans-69" transform="translate(193.505859 0)"/>
      <use href="#DejaVuSans-73" transform="translate(221.289062 0)"/>
      <use href="#DejaVuSans-69" transform="translate(273.388672 0)"/>
      <use href="#DejaVuSans-6f" transform="translate(301.171875 0)"/>
      <use href="#DejaVuSans-6e" transform="translate(362.353516 0)"/>
      <use href="#DejaVuSans-20" transform="translate(425.732422 0)"/>
      <use href="#DejaVuSans-42" transform="translate(457.519531 0)"/>
      <use href="#DejaVuSans-6f" transform="translate(526.123047 0)"/>
      <use href="#DejaVuSans-75" transform="translate(587.304688 0)"/>
      <use href="#DejaVuSans-6e" transform="translate(650.683594 0)"/>
      <use href="#DejaVuSans-64" transform="translate(714.0625 0)"/>
      <use href="#DejaVuSans-61" transform="translate(777.539062 0)"/>
      <use href="#DejaVuSans-72" transform="translate(838.818359 0)"/>
      <use href="#DejaVuSans-79" transform="translate(879.931641 0)"/>
      <use href="#DejaVuSans-20" transform="translate(939.111328 0)"/>
      <use href="#DejaVuSans-50" transform="translate(970.898438 0)"/>
      <use href="#DejaVuSans-6f" transform="translate(1027.576172 0)"/>
      <use href="#DejaVuSans-69" transform="translate(1088.757812 0)"/>
      <use href="#DejaVuSans-6e" transform="translate(1116.541016 0)"/>
      <use href="#DejaVuSans-74" transform="translate(1179.919922 0)"/>
     </g>
    </g>
    <g id="patch_11">
     <path d="M 55.779661 276.176511 
L 75.779661 276.176511 
L 75.779661 269.176511 
L 55.779661 269.176511 
z
" style="fill: #008000; stroke: #008000; stroke-linejoin: miter"/>
    </g>
    <g id="text_23">
     <g transform="translate(83.779661 276.176511) scale(0.1 -0.1)">
      <defs>
       <path id="DejaVuSans-43" d="M 4122 4306 
L 4122 3641 
Q 3803 3938 3442 4084 
Q 3081 4231 2675 4231 
Q 1875 4231 1450 3742 
Q 1025 3253 1025 2328 
Q 1025 1406 1450 917 
Q 1875 428 2675 428 
Q 3081 428 3442 575 
Q 3803 722 4122 1019 
L 4122 359 
Q 3791 134 3420 21 
Q 3050 -91 2638 -91 
Q 1578 -91 968 557 
Q 359 1206 359 2328 
Q 359 3453 968 4101 
Q 1578 4750 2638 4750 
Q 3056 4750 3426 4639 
Q 3797 4528 4122 4306 
z
" transform="scale(0.015625)"/>
       <path id="DejaVuSans-66" d="M 2375 4863 
L 2375 4384 
L 1825 4384 
Q 1516 4384 1395 4259 
Q 1275 4134 1275 3809 
L 1275 3500 
L 2222 3500 
L 2222 3053 
L 1275 3053 
L 1275 0 
L 697 0 
L 697 3053 
L 147 3053 
L 147 3500 
L 697 3500 
L 697 3744 
Q 697 4328 969 4595 
Q 1241 4863 1831 4863 
L 2375 4863 
z
" transform="scale(0.015625)"/>
      </defs>
      <use href="#DejaVuSans-43"/>
      <use href="#DejaVuSans-6f" transform="translate(69.824219 0)"/>
      <use href="#DejaVuSans-75" transform="translate(131.005859 0)"/>
      <use href="#DejaVuSans-6e" transform="translate(194.384766 0)"/>
      <use href="#DejaVuSans-74" transform="translate(257.763672 0)"/>
      <use href="#DejaVuSans-65" transform="translate(296.972656 0)"/>
      <use href="#DejaVuSans-72" transform="translate(358.496094 0)"/>
      <use href="#DejaVuSans-66" transform="translate(399.609375 0)"/>
      <use href="#DejaVuSans-61" transform="translate(434.814453 0)"/>
      <use href="#DejaVuSans-63" transform="translate(496.09375 0)"/>
      <use href="#DejaVuSans-74" transform="translate(551.074219 0)"/>
      <use href="#DejaVuSans-75" transform="translate(590.283203 0)"/>
      <use href="#DejaVuSans-61" transform="translate(653.662109 0)"/>
      <use href="#DejaVuSans-6c" transform="translate(714.941406 0)"/>
     </g>
    </g>
   </g>
   <g id="text_24">
    <g transform="translate(156.692998 24.359567) scale(0.1 -0.1)">
     <use href="#DejaVuSans-4e"/>
     <use href="#DejaVuSans-48" transform="translate(74.804688 0)"/>
    </g>
   </g>
   <g id="text_25">
    <g transform="translate(211.649666 40.744123) scale(0.1 -0.1)">
     <use href="#DejaVuSans-4e"/>
     <use href="#DejaVuSans-48" transform="translate(74.804688 0)"/>
    </g>
   </g>
   <g id="text_26">
    <g transform="translate(239.128001 73.513235) scale(0.1 -0.1)">
     <use href="#DejaVuSans-4e"/>
     <use href="#DejaVuSans-48" transform="translate(74.804688 0)"/>
    </g>
   </g>
   <g id="text_27">
    <g transform="translate(266.606335 106.282346) scale(0.1 -0.1)">
     <use href="#DejaVuSans-4e"/>
     <use href="#DejaVuSans-48" transform="translate(74.804688 0)"/>
    </g>
   </g>
   <g id="text_28">
    <g transform="translate(376.519672 73.513235) scale(0.1 -0.1)">
     <use href="#DejaVuSans-4e"/>
     <use href="#DejaVuSans-48" transform="translate(74.804688 0)"/>
    </g>
   </g>
   <g id="text_29">
    <g transform="translate(403.998006 89.897791) scale(0.1 -0.1)">
     <use href="#DejaVuSans-4e"/>
     <use href="#DejaVuSans-48" transform="translate(74.804688 0)"/>
    </g>
   </g>
   <g id="text_30">
    <g transform="translate(321.563003 122.666902) scale(0.1 -0.1)">
     <use href="#DejaVuSans-4e"/>
     <use href="#DejaVuSans-48" transform="translate(74.804688 0)"/>
    </g>
   </g>
   <g id="text_31">
    <g transform="translate(376.519672 122.666902) scale(0.1 -0.1)">
     <use href="#DejaVuSans-4e"/>
     <use href="#DejaVuSans-48" transform="translate(74.804688 0)"/>
    </g>
   </g>
   <g id="text_32">
    <g transform="translate(349.041338 155.436014) scale(0.1 -0.1)">
     <use href="#DejaVuSans-4e"/>
     <use href="#DejaVuSans-48" transform="translate(74.804688 0)"/>
    </g>
   </g>
   <g id="text_33">
    <g transform="translate(184.171332 155.436014) scale(0.1 -0.1)">
     <use href="#DejaVuSans-4e"/>
     <use href="#DejaVuSans-48" transform="translate(74.804688 0)"/>
    </g>
   </g>
   <g id="text_34">
    <g transform="translate(74.257995 106.282346) scale(0.1 -0.1)">
     <use href="#DejaVuSans-48"/>
    </g>
   </g>
   <g id="text_35">
    <g transform="translate(115.475497 155.436014) scale(0.1 -0.1)">
     <use href="#DejaVuSans-48"/>
    </g>
   </g>
   <g id="text_36">
    <g transform="translate(156.692998 188.205125) scale(0.1 -0.1)">
     <use href="#DejaVuSans-48"/>
    </g>
   </g>
   <g id="text_37">
    <g transform="translate(184.171332 188.205125) scale(0.1 -0.1)">
     <use href="#DejaVuSans-48"/>
    </g>
   </g>
   <g id="text_38">
    <g transform="translate(211.649666 204.589681) scale(0.1 -0.1)">
     <use href="#DejaVuSans-48"/>
    </g>
   </g>
   <g id="text_39">
    <g transform="translate(239.128001 220.974237) scale(0.1 -0.1)">
     <use href="#DejaVuSans-48"/>
    </g>
   </g>
   <g id="text_40">
    <g transform="translate(294.084669 204.589681) scale(0.1 -0.1)">
     <use href="#DejaVuSans-48"/>
    </g>
   </g>
   <g id="text_41">
    <g transform="translate(294.084669 237.358793) scale(0.1 -0.1)">
     <use href="#DejaVuSans-48"/>
    </g>
   </g>
   <g id="text_42">
    <g transform="translate(266.606335 270.127904) scale(0.1 -0.1)">
     <use href="#DejaVuSans-48"/>
    </g>
   </g>
   <g id="text_43">
    <g transform="translate(321.563003 188.205125) scale(0.1 -0.1)">
     <use href="#DejaVuSans-48"/>
    </g>
   </g>
   <g id="text_44">
    <g transform="translate(266.606335 106.282346) scale(0.1 -0.1)">
     <use href="#DejaVuSans-4e"/>
     <use href="#DejaVuSans-48" transform="translate(74.804688 0)"/>
    </g>
   </g>
   <g id="text_45">
    <g transform="translate(242.811565 184.909154) scale(0.1 -0.1)">
     <use href="#DejaVuSans-4e"/>
     <use href="#DejaVuSans-48" transform="translate(74.804688 0)"/>
    </g>
   </g>
  </g>
 </g>
 <defs>
  <clipPath id="pa65eab0f58">
   <rect x="46.779661" y="25.103306" width="357.218345" height="262.152893"/>
  </clipPath>
 </defs>
</svg>

</body></html>
